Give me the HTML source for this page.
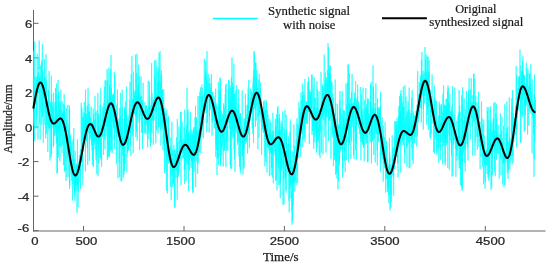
<!DOCTYPE html>
<html><head><meta charset="utf-8"><style>
html,body{margin:0;padding:0;background:#fff;}
body{width:550px;height:266px;overflow:hidden;position:relative;}
svg{position:absolute;left:0;top:0;}
.tk{font-family:"Liberation Sans",Arial,sans-serif;font-size:12px;fill:#262626;stroke:#262626;stroke-width:0.25px;}
.lg{font-family:"Liberation Serif","Times New Roman",serif;font-size:12.3px;font-weight:normal;fill:#1a1a1a;stroke:#1a1a1a;stroke-width:0.2px;}
.al{font-family:"Liberation Serif","Times New Roman",serif;font-size:12px;fill:#1a1a1a;stroke:#1a1a1a;stroke-width:0.25px;}
</style></head><body>
<svg width="550" height="266" viewBox="0 0 550 266">
<rect width="550" height="266" fill="#fff"/>
<g stroke="#666666" stroke-width="1" fill="none">
<path d="M33.5 10 V231.5 M33.5 231 H545.5"/>
<path d="M33.5 23.3 H38.5"/><path d="M33.5 57.8 H38.5"/><path d="M33.5 92.4 H38.5"/><path d="M33.5 127.0 H38.5"/><path d="M33.5 161.6 H38.5"/><path d="M33.5 196.2 H38.5"/><path d="M33.5 230.7 H38.5"/><path d="M83.5 231 V226"/><path d="M184.0 231 V226"/><path d="M284.4 231 V226"/><path d="M384.8 231 V226"/><path d="M485.3 231 V226"/></g>
<path d="M33.3,108.5 L33.4,78.4 L33.5,89.9 L33.6,90.1 L33.7,50.7 L33.8,123.6 L33.9,112.0 L34.0,125.7 L34.1,104.6 L34.2,77.6 L34.3,103.0 L34.4,93.5 L34.5,141.0 L34.6,99.9 L34.7,113.9 L34.8,41.5 L34.9,79.1 L35.0,76.6 L35.1,98.9 L35.2,87.0 L35.3,85.3 L35.4,100.4 L35.5,102.4 L35.6,96.8 L35.7,103.6 L35.8,102.9 L35.9,97.2 L36.0,104.8 L36.1,79.1 L36.2,128.4 L36.3,76.8 L36.4,101.1 L36.5,99.1 L36.6,119.8 L36.7,92.0 L36.8,92.8 L36.9,88.5 L37.0,97.0 L37.1,88.8 L37.2,53.8 L37.3,84.9 L37.4,96.6 L37.5,74.9 L37.6,88.4 L37.7,80.9 L37.8,80.3 L37.9,91.4 L38.0,139.7 L38.1,90.1 L38.2,80.2 L38.3,90.2 L38.4,81.3 L38.5,72.2 L38.6,92.9 L38.7,66.7 L38.8,57.6 L38.9,69.6 L39.0,67.7 L39.1,69.0 L39.2,40.5 L39.3,82.3 L39.4,83.2 L39.5,77.2 L39.6,101.2 L39.7,123.8 L39.8,100.3 L39.9,79.9 L40.0,78.6 L40.1,124.6 L40.2,139.7 L40.3,86.5 L40.4,84.3 L40.5,82.7 L40.6,75.7 L40.7,65.6 L40.8,81.2 L40.9,76.7 L41.0,108.4 L41.1,111.4 L41.2,81.4 L41.3,66.1 L41.4,63.8 L41.5,68.9 L41.6,61.5 L41.7,60.5 L41.8,125.1 L41.9,95.1 L42.0,74.3 L42.1,69.6 L42.2,117.5 L42.3,44.2 L42.4,90.2 L42.5,87.3 L42.6,83.5 L42.7,76.4 L42.8,116.1 L42.9,72.0 L43.0,86.5 L43.1,98.8 L43.2,90.0 L43.3,143.0 L43.4,97.0 L43.5,87.4 L43.6,99.0 L43.7,92.4 L43.8,90.6 L43.9,90.0 L44.0,79.4 L44.1,91.0 L44.2,93.5 L44.3,87.4 L44.4,59.3 L44.5,95.8 L44.6,89.0 L44.8,124.7 L44.9,76.5 L45.0,88.4 L45.1,77.6 L45.2,95.6 L45.3,112.2 L45.4,87.1 L45.5,89.6 L45.6,115.7 L45.7,138.3 L45.8,95.0 L45.9,99.9 L46.0,54.2 L46.1,107.2 L46.2,106.2 L46.3,101.3 L46.4,134.1 L46.5,114.5 L46.6,80.5 L46.7,103.5 L46.8,110.4 L46.9,125.1 L47.0,99.8 L47.1,99.4 L47.2,103.9 L47.3,109.3 L47.4,104.6 L47.5,104.4 L47.6,115.3 L47.7,102.9 L47.8,152.0 L47.9,129.4 L48.0,111.5 L48.1,110.1 L48.2,127.7 L48.3,106.9 L48.4,89.9 L48.5,105.5 L48.6,109.7 L48.7,90.7 L48.8,105.3 L48.9,130.2 L49.0,114.8 L49.1,70.8 L49.2,128.5 L49.3,114.6 L49.4,118.0 L49.5,125.5 L49.6,127.8 L49.7,115.9 L49.8,114.1 L49.9,114.5 L50.0,160.5 L50.1,119.5 L50.2,115.0 L50.3,104.5 L50.4,110.4 L50.5,107.5 L50.6,101.9 L50.7,108.3 L50.8,127.6 L50.9,119.9 L51.0,126.5 L51.1,157.5 L51.2,142.5 L51.3,75.7 L51.4,132.7 L51.5,153.4 L51.6,125.9 L51.7,94.0 L51.8,122.2 L51.9,118.4 L52.0,123.7 L52.1,122.8 L52.2,101.8 L52.3,112.5 L52.4,123.2 L52.5,110.9 L52.6,107.1 L52.7,124.2 L52.8,121.3 L52.9,121.6 L53.0,128.7 L53.1,106.1 L53.2,124.3 L53.3,128.8 L53.4,147.2 L53.5,139.3 L53.6,92.7 L53.7,144.8 L53.8,119.0 L53.9,127.5 L54.0,117.7 L54.1,116.1 L54.2,136.0 L54.3,126.4 L54.4,122.9 L54.5,122.8 L54.6,123.4 L54.7,126.6 L54.8,116.2 L54.9,102.3 L55.0,117.6 L55.1,135.8 L55.2,119.5 L55.3,122.6 L55.4,118.4 L55.5,87.9 L55.6,123.8 L55.7,122.5 L55.8,133.4 L55.9,124.3 L56.0,127.9 L56.1,93.5 L56.2,119.6 L56.3,127.8 L56.4,83.5 L56.5,143.3 L56.6,110.1 L56.7,106.7 L56.8,115.0 L56.9,123.2 L57.0,173.7 L57.1,123.9 L57.2,111.5 L57.3,172.9 L57.4,126.0 L57.5,119.7 L57.6,126.9 L57.7,155.8 L57.8,121.9 L57.9,129.6 L58.0,80.0 L58.1,97.4 L58.2,119.6 L58.3,158.0 L58.4,120.8 L58.5,132.1 L58.6,112.2 L58.7,91.3 L58.8,117.0 L58.9,95.9 L59.0,104.3 L59.1,114.5 L59.2,129.9 L59.3,118.2 L59.4,146.8 L59.5,109.5 L59.6,117.9 L59.7,105.2 L59.8,116.7 L59.9,161.3 L60.0,113.6 L60.1,110.7 L60.2,101.6 L60.3,131.9 L60.4,132.1 L60.5,117.8 L60.6,136.0 L60.7,146.3 L60.8,137.5 L60.9,89.5 L61.0,125.9 L61.1,136.1 L61.2,122.7 L61.3,118.6 L61.4,108.7 L61.5,112.4 L61.6,114.0 L61.7,118.9 L61.8,118.6 L61.9,127.3 L62.0,152.9 L62.1,101.2 L62.2,124.2 L62.3,113.1 L62.4,122.4 L62.5,120.5 L62.6,121.0 L62.7,144.7 L62.8,121.2 L62.9,119.4 L63.0,113.7 L63.1,117.9 L63.2,111.5 L63.3,120.3 L63.4,122.6 L63.5,165.3 L63.6,128.4 L63.7,103.7 L63.8,123.2 L63.9,116.4 L64.0,125.5 L64.1,131.5 L64.2,94.1 L64.3,122.9 L64.4,105.9 L64.5,121.7 L64.6,128.5 L64.7,171.5 L64.8,127.2 L64.9,153.3 L65.0,171.6 L65.1,112.4 L65.2,121.7 L65.3,123.3 L65.4,130.3 L65.5,131.2 L65.6,127.6 L65.7,130.9 L65.8,132.1 L65.9,124.2 L66.0,181.0 L66.1,122.4 L66.2,140.2 L66.3,117.7 L66.4,108.1 L66.5,145.0 L66.6,120.2 L66.7,121.1 L66.8,144.5 L66.9,142.9 L67.0,138.3 L67.1,177.1 L67.2,143.8 L67.3,139.4 L67.4,144.2 L67.6,158.7 L67.7,145.0 L67.8,104.8 L67.9,112.3 L68.0,145.2 L68.1,151.0 L68.2,146.2 L68.3,146.7 L68.4,151.5 L68.5,149.4 L68.6,137.8 L68.7,129.3 L68.8,177.0 L68.9,128.8 L69.0,149.9 L69.1,123.8 L69.2,152.3 L69.3,146.2 L69.4,105.4 L69.5,188.8 L69.6,108.4 L69.7,153.4 L69.8,172.4 L69.9,185.5 L70.0,153.0 L70.1,164.6 L70.2,134.5 L70.3,156.5 L70.4,159.8 L70.5,136.3 L70.6,158.5 L70.7,145.8 L70.8,143.4 L70.9,157.8 L71.0,145.8 L71.1,146.3 L71.2,174.0 L71.3,165.2 L71.4,165.1 L71.5,166.8 L71.6,180.7 L71.7,169.5 L71.8,164.0 L71.9,166.0 L72.0,141.2 L72.1,174.0 L72.2,172.0 L72.3,174.2 L72.4,171.5 L72.5,175.4 L72.6,200.5 L72.7,167.7 L72.8,157.5 L72.9,155.2 L73.0,184.5 L73.1,172.8 L73.2,138.7 L73.3,172.9 L73.4,170.0 L73.5,173.7 L73.6,160.1 L73.7,161.1 L73.8,127.9 L73.9,169.4 L74.0,170.3 L74.1,188.7 L74.2,177.4 L74.3,181.0 L74.4,176.9 L74.5,190.9 L74.6,158.8 L74.7,194.7 L74.8,173.6 L74.9,200.9 L75.0,173.0 L75.1,150.7 L75.2,189.4 L75.3,173.0 L75.4,175.8 L75.5,173.8 L75.6,172.4 L75.7,185.8 L75.8,176.9 L75.9,184.9 L76.0,191.4 L76.1,188.7 L76.2,164.8 L76.3,181.5 L76.4,169.1 L76.5,170.3 L76.6,185.4 L76.7,163.4 L76.8,183.2 L76.9,169.0 L77.0,213.0 L77.1,180.6 L77.2,183.7 L77.3,183.6 L77.4,139.2 L77.5,175.2 L77.6,188.4 L77.7,165.0 L77.8,172.6 L77.9,171.5 L78.0,182.2 L78.1,207.3 L78.2,177.4 L78.3,181.9 L78.4,192.2 L78.5,181.8 L78.6,179.1 L78.7,162.2 L78.8,163.0 L78.9,164.6 L79.0,171.7 L79.1,182.2 L79.2,165.2 L79.3,163.2 L79.4,155.6 L79.5,165.4 L79.6,165.5 L79.7,162.0 L79.8,173.6 L79.9,171.3 L80.0,154.9 L80.1,177.7 L80.2,162.5 L80.3,149.7 L80.4,159.1 L80.5,155.5 L80.6,189.3 L80.7,160.7 L80.8,161.1 L80.9,149.3 L81.0,152.5 L81.1,157.3 L81.2,102.9 L81.3,147.9 L81.4,157.9 L81.5,162.1 L81.6,154.7 L81.7,160.3 L81.8,107.8 L81.9,143.3 L82.0,154.8 L82.1,159.5 L82.2,167.4 L82.3,152.7 L82.4,117.3 L82.5,132.6 L82.6,149.2 L82.7,147.2 L82.8,185.2 L82.9,133.0 L83.0,148.2 L83.1,112.3 L83.2,146.7 L83.3,149.9 L83.4,142.1 L83.5,151.3 L83.6,116.9 L83.7,140.2 L83.8,138.4 L83.9,138.4 L84.0,144.2 L84.1,135.0 L84.2,139.0 L84.3,101.9 L84.4,139.1 L84.5,134.8 L84.6,142.4 L84.7,140.8 L84.8,139.5 L84.9,113.4 L85.0,135.9 L85.1,120.5 L85.2,137.0 L85.3,137.6 L85.4,171.4 L85.5,122.0 L85.6,89.5 L85.7,134.2 L85.8,107.0 L85.9,120.2 L86.0,137.0 L86.1,125.0 L86.2,139.0 L86.3,132.3 L86.4,117.9 L86.5,129.5 L86.6,141.7 L86.7,114.1 L86.8,140.0 L86.9,129.5 L87.0,130.3 L87.1,128.9 L87.2,135.3 L87.3,148.1 L87.4,105.6 L87.5,135.8 L87.6,134.7 L87.7,165.0 L87.8,126.3 L87.9,113.7 L88.0,88.0 L88.1,88.4 L88.2,110.4 L88.3,123.1 L88.4,125.4 L88.5,111.3 L88.6,125.2 L88.7,124.0 L88.8,133.4 L88.9,124.3 L89.0,103.7 L89.1,124.7 L89.2,122.1 L89.3,160.8 L89.4,112.6 L89.5,122.1 L89.6,111.9 L89.7,122.9 L89.8,131.1 L89.9,139.1 L90.0,121.2 L90.1,124.0 L90.2,133.1 L90.3,124.0 L90.5,128.6 L90.6,117.3 L90.7,126.4 L90.8,138.0 L90.9,124.2 L91.0,128.4 L91.1,106.7 L91.2,127.6 L91.3,140.9 L91.4,124.5 L91.5,127.0 L91.6,122.7 L91.7,123.4 L91.8,145.1 L91.9,125.4 L92.0,126.1 L92.1,151.1 L92.2,134.4 L92.3,124.7 L92.4,165.5 L92.5,148.9 L92.6,133.3 L92.7,127.5 L92.8,121.8 L92.9,159.1 L93.0,125.8 L93.1,122.9 L93.2,108.5 L93.3,134.3 L93.4,146.8 L93.5,167.0 L93.6,124.7 L93.7,113.7 L93.8,141.6 L93.9,126.5 L94.0,121.2 L94.1,119.7 L94.2,134.3 L94.3,124.5 L94.4,130.6 L94.5,144.5 L94.6,129.2 L94.7,128.4 L94.8,140.4 L94.9,127.7 L95.0,95.8 L95.1,149.5 L95.2,124.3 L95.3,120.7 L95.4,132.3 L95.5,130.1 L95.6,134.2 L95.7,111.7 L95.8,142.1 L95.9,134.1 L96.0,159.8 L96.1,132.4 L96.2,132.3 L96.3,155.5 L96.4,142.7 L96.5,132.0 L96.6,138.5 L96.7,148.4 L96.8,174.1 L96.9,133.8 L97.0,110.6 L97.1,139.2 L97.2,133.5 L97.3,133.8 L97.4,136.6 L97.5,136.1 L97.6,136.1 L97.7,145.0 L97.8,98.3 L97.9,92.9 L98.0,176.3 L98.1,113.5 L98.2,144.5 L98.3,138.0 L98.4,125.2 L98.5,149.2 L98.6,151.5 L98.7,134.9 L98.8,163.5 L98.9,114.2 L99.0,130.3 L99.1,135.4 L99.2,131.0 L99.3,147.7 L99.4,148.1 L99.5,128.5 L99.6,126.8 L99.7,135.4 L99.8,135.9 L99.9,140.6 L100.0,105.2 L100.1,157.7 L100.2,145.0 L100.3,139.9 L100.4,157.9 L100.5,153.3 L100.6,147.2 L100.7,115.0 L100.8,88.1 L100.9,129.9 L101.0,160.1 L101.1,139.4 L101.2,133.7 L101.3,134.6 L101.4,135.5 L101.5,125.2 L101.6,166.9 L101.7,137.4 L101.8,129.5 L101.9,119.5 L102.0,127.8 L102.1,130.5 L102.2,130.8 L102.3,136.8 L102.4,129.0 L102.5,130.3 L102.6,136.4 L102.7,106.6 L102.8,106.7 L102.9,130.6 L103.0,119.1 L103.1,109.8 L103.2,124.6 L103.3,125.5 L103.4,121.0 L103.5,154.7 L103.6,148.7 L103.7,119.5 L103.8,122.1 L103.9,103.1 L104.0,129.5 L104.1,108.0 L104.2,108.4 L104.3,86.9 L104.4,135.2 L104.5,125.0 L104.6,118.8 L104.7,118.5 L104.8,139.5 L104.9,127.7 L105.0,149.0 L105.1,79.9 L105.2,118.6 L105.3,118.1 L105.4,126.7 L105.5,117.1 L105.6,108.7 L105.7,119.7 L105.8,116.1 L105.9,80.7 L106.0,105.1 L106.1,113.3 L106.2,119.5 L106.3,114.0 L106.4,126.7 L106.5,111.4 L106.6,124.2 L106.7,125.5 L106.8,117.3 L106.9,136.2 L107.0,110.3 L107.1,69.1 L107.2,121.6 L107.3,160.0 L107.4,100.0 L107.5,110.3 L107.6,80.4 L107.7,106.5 L107.8,99.4 L107.9,125.0 L108.0,157.2 L108.1,109.9 L108.2,102.0 L108.3,127.5 L108.4,157.2 L108.5,118.8 L108.6,114.6 L108.7,111.6 L108.8,106.4 L108.9,67.6 L109.0,105.5 L109.1,115.3 L109.2,135.1 L109.3,97.1 L109.4,156.7 L109.5,84.4 L109.6,104.8 L109.7,152.6 L109.8,103.6 L109.9,105.8 L110.0,88.1 L110.1,151.9 L110.2,103.0 L110.3,104.2 L110.4,93.4 L110.5,135.8 L110.6,122.5 L110.7,69.0 L110.8,98.9 L110.9,149.9 L111.0,55.0 L111.1,122.5 L111.2,119.3 L111.3,138.5 L111.4,88.0 L111.5,114.8 L111.6,102.8 L111.7,103.7 L111.8,150.6 L111.9,121.1 L112.0,94.3 L112.1,153.2 L112.2,103.2 L112.3,106.4 L112.4,98.1 L112.5,97.7 L112.6,95.3 L112.7,105.4 L112.8,104.5 L112.9,122.2 L113.0,117.6 L113.1,95.3 L113.3,119.8 L113.4,93.5 L113.5,94.4 L113.6,127.1 L113.7,103.0 L113.8,128.4 L113.9,106.6 L114.0,127.9 L114.1,107.4 L114.2,109.3 L114.3,138.6 L114.4,72.0 L114.5,99.3 L114.6,148.9 L114.7,109.7 L114.8,118.1 L114.9,74.8 L115.0,113.8 L115.1,110.9 L115.2,116.0 L115.3,108.6 L115.4,122.8 L115.5,131.6 L115.6,123.0 L115.7,122.1 L115.8,111.2 L115.9,117.4 L116.0,123.1 L116.1,123.0 L116.2,132.9 L116.3,119.3 L116.4,164.2 L116.5,122.6 L116.6,105.3 L116.7,125.4 L116.8,130.7 L116.9,122.8 L117.0,137.2 L117.1,134.2 L117.2,117.3 L117.3,132.9 L117.4,89.3 L117.5,121.2 L117.6,127.3 L117.7,134.7 L117.8,129.9 L117.9,178.4 L118.0,127.4 L118.1,118.4 L118.2,124.3 L118.3,134.7 L118.4,124.4 L118.5,124.4 L118.6,132.7 L118.7,130.3 L118.8,121.6 L118.9,130.2 L119.0,137.2 L119.1,134.3 L119.2,134.2 L119.3,162.0 L119.4,135.3 L119.5,136.9 L119.6,177.4 L119.7,165.6 L119.8,107.9 L119.9,137.5 L120.0,118.9 L120.1,141.9 L120.2,115.7 L120.3,134.3 L120.4,147.3 L120.5,138.5 L120.6,115.4 L120.7,92.8 L120.8,136.5 L120.9,145.3 L121.0,181.6 L121.1,134.6 L121.2,127.0 L121.3,141.9 L121.4,143.3 L121.5,132.9 L121.6,138.6 L121.7,140.1 L121.8,180.6 L121.9,147.5 L122.0,107.0 L122.1,144.2 L122.2,89.8 L122.3,140.9 L122.4,147.3 L122.5,142.4 L122.6,137.8 L122.7,155.9 L122.8,143.0 L122.9,149.6 L123.0,118.9 L123.1,150.2 L123.2,144.2 L123.3,177.5 L123.4,173.0 L123.5,145.2 L123.6,160.1 L123.7,147.4 L123.8,142.8 L123.9,138.2 L124.0,174.6 L124.1,145.7 L124.2,136.1 L124.3,154.1 L124.4,170.8 L124.5,154.1 L124.6,107.2 L124.7,143.4 L124.8,109.2 L124.9,145.2 L125.0,120.2 L125.1,164.2 L125.2,144.1 L125.3,141.8 L125.4,101.7 L125.5,136.2 L125.6,121.2 L125.7,144.7 L125.8,144.4 L125.9,116.2 L126.0,111.5 L126.1,117.2 L126.2,117.7 L126.3,144.3 L126.4,86.6 L126.5,137.8 L126.6,115.0 L126.7,127.6 L126.8,167.6 L126.9,172.3 L127.0,163.3 L127.1,137.0 L127.2,117.8 L127.3,137.7 L127.4,123.7 L127.5,153.4 L127.6,141.4 L127.7,145.9 L127.8,134.1 L127.9,150.3 L128.0,133.8 L128.1,126.2 L128.2,136.7 L128.3,143.4 L128.4,135.7 L128.5,149.2 L128.6,144.8 L128.7,117.1 L128.8,126.2 L128.9,150.9 L129.0,130.7 L129.1,122.8 L129.2,114.5 L129.3,117.6 L129.4,107.9 L129.5,126.7 L129.6,126.1 L129.7,127.1 L129.8,100.4 L129.9,110.8 L130.0,81.9 L130.1,102.2 L130.2,132.2 L130.3,144.8 L130.4,142.4 L130.5,132.2 L130.6,111.7 L130.7,141.2 L130.8,155.9 L130.9,120.9 L131.0,104.2 L131.1,104.7 L131.2,74.0 L131.3,118.2 L131.4,121.0 L131.5,118.6 L131.6,129.4 L131.7,120.9 L131.8,87.4 L131.9,56.0 L132.0,87.4 L132.1,111.7 L132.2,115.3 L132.3,111.7 L132.4,136.2 L132.5,105.1 L132.6,100.0 L132.7,112.7 L132.8,111.7 L132.9,131.8 L133.0,98.8 L133.1,98.5 L133.2,153.3 L133.3,114.3 L133.4,106.3 L133.5,71.6 L133.6,116.8 L133.7,108.7 L133.8,89.4 L133.9,104.6 L134.0,108.7 L134.1,110.4 L134.2,106.9 L134.3,114.0 L134.4,96.0 L134.5,114.4 L134.6,101.6 L134.7,96.4 L134.8,91.7 L134.9,104.7 L135.0,104.8 L135.1,102.4 L135.2,104.0 L135.3,91.7 L135.4,104.4 L135.5,75.4 L135.6,54.6 L135.7,116.6 L135.8,100.1 L135.9,137.2 L136.1,95.7 L136.2,99.7 L136.3,104.7 L136.4,132.1 L136.5,102.5 L136.6,72.7 L136.7,81.0 L136.8,99.5 L136.9,115.1 L137.0,53.7 L137.1,119.1 L137.2,140.9 L137.3,124.6 L137.4,97.2 L137.5,100.3 L137.6,101.3 L137.7,114.1 L137.8,119.6 L137.9,86.9 L138.0,104.4 L138.1,83.5 L138.2,108.9 L138.3,88.7 L138.4,100.7 L138.5,105.4 L138.6,105.4 L138.7,64.6 L138.8,89.9 L138.9,104.3 L139.0,102.1 L139.1,122.9 L139.2,75.9 L139.3,83.6 L139.4,106.2 L139.5,100.1 L139.6,150.2 L139.7,93.1 L139.8,100.6 L139.9,103.0 L140.0,96.5 L140.1,103.1 L140.2,114.4 L140.3,110.9 L140.4,106.3 L140.5,96.8 L140.6,106.1 L140.7,111.6 L140.8,104.3 L140.9,119.8 L141.0,76.4 L141.1,106.6 L141.2,116.6 L141.3,107.5 L141.4,103.2 L141.5,106.6 L141.6,96.1 L141.7,132.8 L141.8,100.5 L141.9,109.3 L142.0,106.0 L142.1,100.2 L142.2,128.0 L142.3,133.1 L142.4,113.8 L142.5,139.4 L142.6,149.0 L142.7,111.2 L142.8,106.3 L142.9,116.1 L143.0,110.6 L143.1,82.8 L143.2,111.8 L143.3,114.9 L143.4,113.9 L143.5,112.1 L143.6,115.4 L143.7,111.4 L143.8,113.6 L143.9,110.5 L144.0,114.3 L144.1,115.0 L144.2,125.2 L144.3,133.8 L144.4,117.0 L144.5,118.2 L144.6,115.1 L144.7,116.3 L144.8,119.8 L144.9,102.1 L145.0,115.8 L145.1,111.1 L145.2,132.4 L145.3,108.3 L145.4,106.2 L145.5,114.7 L145.6,124.2 L145.7,105.6 L145.8,122.7 L145.9,133.5 L146.0,134.5 L146.1,117.9 L146.2,120.9 L146.3,112.3 L146.4,113.8 L146.5,105.3 L146.6,116.9 L146.7,118.3 L146.8,118.6 L146.9,124.1 L147.0,124.6 L147.1,123.5 L147.2,117.8 L147.3,124.8 L147.4,119.0 L147.5,108.4 L147.6,147.5 L147.7,125.1 L147.8,126.5 L147.9,118.7 L148.0,133.0 L148.1,123.0 L148.2,80.7 L148.3,131.2 L148.4,118.7 L148.5,117.4 L148.6,119.7 L148.7,128.9 L148.8,106.1 L148.9,139.4 L149.0,125.8 L149.1,118.8 L149.2,122.0 L149.3,101.1 L149.4,119.1 L149.5,81.7 L149.6,117.1 L149.7,96.7 L149.8,114.2 L149.9,118.2 L150.0,118.4 L150.1,105.4 L150.2,120.8 L150.3,116.1 L150.4,123.8 L150.5,146.7 L150.6,111.5 L150.7,110.2 L150.8,129.8 L150.9,111.6 L151.0,116.1 L151.1,143.3 L151.2,124.6 L151.3,108.4 L151.4,102.8 L151.5,110.9 L151.6,63.2 L151.7,110.7 L151.8,120.2 L151.9,132.9 L152.0,93.0 L152.1,115.5 L152.2,114.1 L152.3,119.9 L152.4,119.6 L152.5,113.1 L152.6,106.9 L152.7,105.6 L152.8,107.3 L152.9,99.7 L153.0,113.1 L153.1,121.5 L153.2,108.1 L153.3,145.0 L153.4,99.5 L153.5,103.4 L153.6,102.9 L153.7,121.1 L153.8,110.5 L153.9,105.7 L154.0,118.3 L154.1,119.6 L154.2,106.2 L154.3,103.9 L154.4,111.4 L154.5,90.4 L154.6,60.6 L154.7,97.8 L154.8,104.2 L154.9,105.4 L155.0,76.4 L155.1,100.3 L155.2,96.1 L155.3,100.5 L155.4,107.4 L155.5,77.6 L155.6,102.8 L155.7,100.2 L155.8,143.3 L155.9,59.9 L156.0,92.0 L156.1,100.5 L156.2,109.6 L156.3,106.4 L156.4,130.4 L156.5,95.3 L156.6,110.6 L156.7,95.4 L156.8,94.9 L156.9,66.5 L157.0,97.4 L157.1,96.5 L157.2,94.0 L157.3,105.0 L157.4,99.7 L157.5,95.6 L157.6,82.4 L157.7,89.7 L157.8,99.5 L157.9,80.5 L158.0,101.8 L158.1,133.3 L158.2,72.3 L158.3,97.4 L158.4,102.8 L158.5,127.3 L158.6,103.3 L158.7,68.2 L158.8,97.6 L159.0,53.0 L159.1,97.4 L159.2,80.6 L159.3,97.5 L159.4,103.5 L159.5,103.0 L159.6,100.2 L159.7,125.9 L159.8,127.0 L159.9,94.8 L160.0,51.0 L160.1,97.6 L160.2,98.8 L160.3,118.7 L160.4,82.2 L160.5,84.5 L160.6,129.4 L160.7,100.0 L160.8,104.3 L160.9,145.7 L161.0,75.2 L161.1,75.7 L161.2,97.8 L161.3,70.0 L161.4,110.3 L161.5,99.8 L161.6,74.6 L161.7,106.9 L161.8,102.0 L161.9,127.1 L162.0,98.5 L162.1,90.4 L162.2,129.4 L162.3,123.3 L162.4,107.9 L162.5,89.3 L162.6,115.2 L162.7,124.0 L162.8,110.3 L162.9,97.5 L163.0,150.2 L163.1,112.6 L163.2,97.4 L163.3,113.0 L163.4,116.1 L163.5,106.6 L163.6,144.2 L163.7,89.3 L163.8,113.0 L163.9,121.6 L164.0,117.1 L164.1,118.3 L164.2,122.1 L164.3,152.4 L164.4,122.6 L164.5,172.9 L164.6,108.0 L164.7,150.3 L164.8,137.8 L164.9,140.6 L165.0,119.2 L165.1,127.2 L165.2,111.3 L165.3,134.0 L165.4,126.7 L165.5,128.3 L165.6,133.4 L165.7,119.2 L165.8,114.3 L165.9,113.3 L166.0,170.0 L166.1,129.9 L166.2,160.9 L166.3,162.6 L166.4,190.8 L166.5,156.5 L166.6,130.4 L166.7,116.9 L166.8,109.7 L166.9,157.8 L167.0,150.0 L167.1,138.2 L167.2,139.6 L167.3,139.7 L167.4,193.4 L167.5,144.2 L167.6,137.1 L167.7,141.9 L167.8,145.4 L167.9,158.7 L168.0,146.4 L168.1,117.1 L168.2,141.9 L168.3,131.7 L168.4,116.1 L168.5,163.6 L168.6,141.3 L168.7,145.5 L168.8,128.5 L168.9,153.1 L169.0,153.4 L169.1,159.2 L169.2,152.3 L169.3,155.2 L169.4,155.0 L169.5,152.2 L169.6,157.5 L169.7,163.2 L169.8,158.8 L169.9,160.4 L170.0,155.3 L170.1,145.7 L170.2,160.2 L170.3,187.2 L170.4,155.6 L170.5,160.1 L170.6,167.1 L170.7,161.8 L170.8,137.8 L170.9,174.4 L171.0,170.8 L171.1,162.5 L171.2,199.7 L171.3,165.3 L171.4,154.6 L171.5,160.2 L171.6,162.1 L171.7,165.7 L171.8,165.1 L171.9,121.8 L172.0,164.2 L172.1,150.7 L172.2,174.7 L172.3,164.7 L172.4,164.0 L172.5,165.6 L172.6,187.0 L172.7,168.3 L172.8,149.6 L172.9,162.9 L173.0,171.5 L173.1,159.1 L173.2,184.1 L173.3,162.8 L173.4,165.2 L173.5,170.8 L173.6,175.0 L173.7,183.4 L173.8,168.0 L173.9,144.7 L174.0,151.7 L174.1,162.4 L174.2,150.0 L174.3,170.7 L174.4,159.9 L174.5,206.7 L174.6,169.7 L174.7,169.6 L174.8,166.7 L174.9,167.1 L175.0,208.0 L175.1,170.6 L175.2,149.6 L175.3,167.1 L175.4,153.3 L175.5,165.2 L175.6,153.5 L175.7,160.9 L175.8,169.2 L175.9,164.0 L176.0,177.1 L176.1,164.3 L176.2,161.2 L176.3,165.5 L176.4,164.5 L176.5,149.1 L176.6,143.3 L176.7,137.2 L176.8,170.4 L176.9,167.7 L177.0,152.2 L177.1,149.9 L177.2,200.1 L177.3,118.9 L177.4,142.9 L177.5,182.9 L177.6,142.4 L177.7,165.1 L177.8,161.1 L177.9,175.2 L178.0,171.3 L178.1,163.4 L178.2,158.7 L178.3,176.6 L178.4,158.8 L178.5,167.4 L178.6,163.9 L178.7,170.2 L178.8,164.9 L178.9,126.2 L179.0,171.6 L179.1,167.4 L179.2,156.1 L179.3,158.4 L179.4,163.3 L179.5,151.3 L179.6,164.0 L179.7,154.4 L179.8,139.5 L179.9,147.5 L180.0,154.8 L180.1,153.2 L180.2,152.2 L180.3,145.8 L180.4,159.2 L180.5,130.0 L180.6,142.2 L180.7,112.0 L180.8,139.9 L180.9,135.5 L181.0,185.4 L181.1,152.7 L181.2,112.0 L181.3,146.9 L181.4,152.0 L181.5,141.5 L181.6,149.1 L181.8,145.8 L181.9,153.1 L182.0,143.6 L182.1,121.8 L182.2,146.8 L182.3,144.2 L182.4,151.9 L182.5,143.3 L182.6,149.4 L182.7,158.4 L182.8,149.1 L182.9,147.8 L183.0,143.3 L183.1,138.7 L183.2,148.0 L183.3,149.6 L183.4,142.0 L183.5,158.1 L183.6,149.0 L183.7,147.8 L183.8,147.0 L183.9,152.5 L184.0,127.4 L184.1,137.5 L184.2,146.7 L184.3,169.7 L184.4,150.8 L184.5,141.4 L184.6,183.7 L184.7,109.8 L184.8,145.6 L184.9,145.3 L185.0,140.7 L185.1,169.8 L185.2,144.8 L185.3,145.0 L185.4,139.7 L185.5,160.3 L185.6,140.7 L185.7,133.1 L185.8,143.7 L185.9,151.5 L186.0,157.3 L186.1,180.8 L186.2,152.2 L186.3,141.7 L186.4,124.6 L186.5,133.2 L186.6,129.4 L186.7,149.0 L186.8,148.7 L186.9,164.5 L187.0,88.0 L187.1,158.0 L187.2,147.5 L187.3,134.5 L187.4,146.9 L187.5,148.6 L187.6,135.9 L187.7,111.5 L187.8,126.9 L187.9,169.1 L188.0,109.5 L188.1,150.5 L188.2,164.9 L188.3,150.0 L188.4,131.9 L188.5,191.0 L188.6,132.7 L188.7,147.4 L188.8,144.4 L188.9,164.9 L189.0,153.2 L189.1,161.3 L189.2,135.9 L189.3,156.4 L189.4,147.4 L189.5,155.3 L189.6,171.1 L189.7,141.6 L189.8,136.6 L189.9,130.7 L190.0,154.9 L190.1,150.8 L190.2,145.1 L190.3,149.4 L190.4,150.5 L190.5,112.3 L190.6,156.9 L190.7,143.1 L190.8,158.8 L190.9,133.7 L191.0,154.9 L191.1,167.9 L191.2,145.8 L191.3,152.8 L191.4,157.0 L191.5,155.1 L191.6,161.0 L191.7,149.5 L191.8,151.7 L191.9,129.5 L192.0,162.6 L192.1,134.7 L192.2,149.6 L192.3,179.3 L192.4,133.5 L192.5,189.3 L192.6,148.0 L192.7,191.9 L192.8,152.2 L192.9,158.2 L193.0,193.4 L193.1,193.2 L193.2,164.6 L193.3,130.6 L193.4,145.5 L193.5,155.1 L193.6,155.5 L193.7,159.7 L193.8,127.0 L193.9,154.8 L194.0,136.1 L194.1,171.1 L194.2,172.0 L194.3,127.7 L194.4,161.7 L194.5,155.1 L194.6,148.2 L194.7,138.4 L194.8,144.7 L194.9,146.1 L195.0,117.0 L195.1,150.8 L195.2,137.4 L195.3,152.9 L195.4,151.5 L195.5,105.6 L195.6,153.6 L195.7,187.0 L195.8,151.6 L195.9,150.6 L196.0,119.1 L196.1,153.3 L196.2,161.6 L196.3,150.2 L196.4,117.3 L196.5,151.9 L196.6,130.8 L196.7,144.7 L196.8,142.2 L196.9,155.7 L197.0,148.4 L197.1,154.6 L197.2,148.0 L197.3,152.6 L197.4,132.0 L197.5,150.1 L197.6,147.4 L197.7,173.8 L197.8,155.1 L197.9,96.3 L198.0,147.1 L198.1,163.5 L198.2,143.7 L198.3,144.4 L198.4,146.3 L198.5,143.9 L198.6,144.9 L198.7,130.5 L198.8,152.6 L198.9,139.2 L199.0,130.6 L199.1,146.6 L199.2,96.0 L199.3,137.8 L199.4,137.8 L199.5,140.5 L199.6,127.8 L199.7,152.3 L199.8,129.8 L199.9,91.5 L200.0,131.2 L200.1,122.0 L200.2,141.3 L200.3,121.5 L200.4,137.9 L200.5,133.6 L200.6,130.1 L200.7,87.3 L200.8,133.0 L200.9,153.0 L201.0,126.8 L201.1,115.6 L201.2,117.3 L201.3,123.6 L201.4,96.9 L201.5,109.4 L201.6,109.7 L201.7,125.2 L201.8,136.9 L201.9,84.5 L202.0,127.6 L202.1,88.2 L202.2,91.5 L202.3,129.5 L202.4,122.7 L202.5,111.4 L202.6,96.2 L202.7,124.3 L202.8,117.2 L202.9,124.1 L203.0,126.1 L203.1,113.0 L203.2,116.3 L203.3,138.3 L203.4,105.4 L203.5,113.9 L203.6,113.4 L203.7,124.3 L203.8,94.9 L203.9,105.1 L204.0,104.6 L204.1,108.7 L204.2,102.3 L204.3,58.7 L204.4,104.7 L204.6,103.3 L204.7,108.8 L204.8,92.2 L204.9,105.7 L205.0,108.8 L205.1,75.1 L205.2,104.0 L205.3,109.0 L205.4,107.0 L205.5,105.0 L205.6,110.3 L205.7,60.9 L205.8,90.0 L205.9,113.0 L206.0,70.6 L206.1,101.6 L206.2,96.1 L206.3,101.0 L206.4,92.2 L206.5,91.8 L206.6,80.3 L206.7,77.8 L206.8,132.2 L206.9,100.5 L207.0,51.0 L207.1,97.9 L207.2,112.4 L207.3,98.9 L207.4,97.4 L207.5,123.0 L207.6,103.9 L207.7,83.4 L207.8,102.4 L207.9,96.8 L208.0,95.7 L208.1,89.2 L208.2,83.7 L208.3,74.1 L208.4,94.9 L208.5,94.0 L208.6,95.8 L208.7,93.8 L208.8,95.6 L208.9,83.0 L209.0,84.2 L209.1,113.1 L209.2,132.7 L209.3,90.3 L209.4,99.7 L209.5,116.7 L209.6,86.6 L209.7,77.9 L209.8,109.3 L209.9,106.2 L210.0,102.4 L210.1,104.3 L210.2,96.9 L210.3,109.9 L210.4,96.7 L210.5,100.0 L210.6,88.5 L210.7,97.8 L210.8,91.1 L210.9,83.5 L211.0,95.3 L211.1,94.5 L211.2,102.6 L211.3,98.8 L211.4,74.1 L211.5,88.1 L211.6,99.5 L211.7,103.4 L211.8,101.3 L211.9,93.3 L212.0,135.6 L212.1,100.6 L212.2,119.7 L212.3,91.7 L212.4,122.5 L212.5,97.7 L212.6,105.3 L212.7,103.5 L212.8,91.9 L212.9,104.3 L213.0,101.8 L213.1,103.9 L213.2,119.5 L213.3,106.1 L213.4,101.5 L213.5,105.4 L213.6,106.7 L213.7,114.6 L213.8,97.5 L213.9,113.3 L214.0,96.1 L214.1,108.9 L214.2,106.5 L214.3,128.4 L214.4,110.5 L214.5,121.2 L214.6,111.4 L214.7,102.9 L214.8,111.1 L214.9,112.1 L215.0,106.1 L215.1,128.1 L215.2,114.0 L215.3,120.3 L215.4,105.1 L215.5,122.9 L215.6,96.9 L215.7,88.6 L215.8,157.0 L215.9,118.2 L216.0,145.2 L216.1,103.6 L216.2,130.2 L216.3,113.5 L216.4,117.5 L216.5,133.7 L216.6,149.8 L216.7,106.4 L216.8,128.7 L216.9,119.8 L217.0,175.0 L217.1,122.4 L217.2,125.4 L217.3,140.0 L217.4,119.1 L217.5,135.6 L217.6,158.7 L217.7,131.5 L217.8,132.5 L217.9,158.8 L218.0,127.5 L218.1,114.8 L218.2,119.6 L218.3,81.8 L218.4,107.8 L218.5,124.9 L218.6,165.0 L218.7,126.2 L218.8,109.7 L218.9,129.9 L219.0,104.7 L219.1,139.2 L219.2,126.9 L219.3,118.1 L219.4,97.3 L219.5,129.7 L219.6,89.3 L219.7,132.2 L219.8,156.4 L219.9,130.6 L220.0,77.4 L220.1,132.6 L220.2,98.4 L220.3,131.8 L220.4,91.1 L220.5,166.1 L220.6,78.6 L220.7,162.5 L220.8,131.5 L220.9,145.2 L221.0,128.7 L221.1,132.6 L221.2,133.2 L221.3,123.9 L221.4,117.4 L221.5,133.6 L221.6,111.2 L221.7,155.3 L221.8,143.0 L221.9,148.2 L222.0,126.7 L222.1,118.8 L222.2,134.4 L222.3,136.8 L222.4,145.2 L222.5,123.3 L222.6,113.9 L222.7,135.5 L222.8,131.7 L222.9,133.6 L223.0,130.7 L223.1,121.7 L223.2,166.6 L223.3,134.6 L223.4,115.1 L223.5,139.5 L223.6,107.1 L223.7,103.1 L223.8,139.6 L223.9,136.4 L224.0,105.6 L224.1,151.0 L224.2,139.9 L224.3,150.5 L224.4,127.8 L224.5,124.5 L224.6,122.4 L224.7,124.9 L224.8,145.4 L224.9,108.3 L225.0,126.5 L225.1,128.9 L225.2,94.1 L225.3,124.9 L225.4,122.3 L225.5,114.3 L225.6,85.3 L225.7,124.4 L225.8,116.2 L225.9,167.2 L226.0,135.3 L226.1,83.7 L226.2,85.6 L226.3,123.3 L226.4,133.0 L226.5,142.4 L226.6,138.6 L226.7,127.0 L226.8,150.7 L226.9,121.2 L227.0,121.3 L227.1,138.5 L227.2,139.9 L227.4,136.8 L227.5,123.9 L227.6,120.3 L227.7,114.2 L227.8,150.6 L227.9,120.9 L228.0,117.6 L228.1,115.6 L228.2,109.1 L228.3,122.6 L228.4,102.2 L228.5,79.8 L228.6,112.8 L228.7,94.9 L228.8,104.9 L228.9,111.8 L229.0,116.9 L229.1,113.1 L229.2,80.8 L229.3,113.9 L229.4,128.9 L229.5,121.2 L229.6,105.1 L229.7,124.4 L229.8,102.2 L229.9,104.9 L230.0,111.1 L230.1,85.3 L230.2,165.1 L230.3,125.9 L230.4,114.0 L230.5,108.3 L230.6,168.5 L230.7,126.6 L230.8,87.8 L230.9,120.0 L231.0,96.8 L231.1,115.1 L231.2,135.4 L231.3,102.6 L231.4,77.3 L231.5,111.2 L231.6,168.7 L231.7,135.5 L231.8,121.8 L231.9,115.8 L232.0,57.6 L232.1,97.4 L232.2,138.5 L232.3,87.4 L232.4,132.9 L232.5,130.5 L232.6,82.7 L232.7,97.0 L232.8,115.3 L232.9,120.8 L233.0,113.0 L233.1,111.1 L233.2,108.7 L233.3,87.3 L233.4,123.8 L233.5,111.7 L233.6,111.6 L233.7,137.6 L233.8,84.2 L233.9,64.1 L234.0,112.5 L234.1,149.7 L234.2,124.9 L234.3,93.7 L234.4,159.3 L234.5,158.4 L234.6,120.0 L234.7,107.8 L234.8,98.8 L234.9,93.5 L235.0,172.0 L235.1,122.6 L235.2,130.8 L235.3,131.3 L235.4,102.8 L235.5,111.3 L235.6,126.7 L235.7,115.1 L235.8,115.6 L235.9,90.0 L236.0,124.2 L236.1,107.3 L236.2,127.6 L236.3,112.6 L236.4,119.1 L236.5,116.7 L236.6,119.6 L236.7,85.0 L236.8,128.4 L236.9,132.8 L237.0,126.4 L237.1,115.3 L237.2,110.3 L237.3,122.2 L237.4,144.9 L237.5,132.8 L237.6,140.3 L237.7,116.6 L237.8,123.6 L237.9,121.6 L238.0,123.8 L238.1,124.1 L238.2,103.2 L238.3,133.7 L238.4,120.4 L238.5,120.1 L238.6,142.3 L238.7,89.2 L238.8,124.9 L238.9,156.7 L239.0,110.5 L239.1,120.2 L239.2,117.3 L239.3,130.9 L239.4,134.0 L239.5,128.3 L239.6,167.0 L239.7,128.8 L239.8,130.1 L239.9,114.5 L240.0,133.3 L240.1,122.2 L240.2,170.1 L240.3,147.0 L240.4,124.7 L240.5,113.0 L240.6,123.4 L240.7,173.7 L240.8,156.6 L240.9,144.2 L241.0,118.2 L241.1,144.4 L241.2,133.0 L241.3,130.9 L241.4,131.1 L241.5,136.1 L241.6,132.9 L241.7,126.1 L241.8,134.6 L241.9,135.7 L242.0,127.4 L242.1,113.9 L242.2,90.4 L242.3,156.4 L242.4,134.4 L242.5,135.8 L242.6,155.5 L242.7,138.8 L242.8,145.8 L242.9,152.8 L243.0,174.7 L243.1,130.8 L243.2,153.6 L243.3,142.7 L243.4,137.4 L243.5,152.0 L243.6,157.5 L243.7,166.9 L243.8,146.3 L243.9,118.5 L244.0,168.3 L244.1,128.2 L244.2,148.8 L244.3,148.9 L244.4,123.2 L244.5,128.3 L244.6,126.4 L244.7,135.5 L244.8,120.8 L244.9,141.7 L245.0,131.6 L245.1,117.6 L245.2,134.8 L245.3,143.9 L245.4,93.7 L245.5,135.2 L245.6,140.2 L245.7,124.2 L245.8,105.9 L245.9,124.9 L246.0,140.9 L246.1,132.0 L246.2,129.5 L246.3,124.5 L246.4,142.4 L246.5,140.4 L246.6,129.4 L246.7,130.1 L246.8,126.1 L246.9,114.0 L247.0,140.0 L247.1,137.1 L247.2,131.5 L247.3,104.9 L247.4,128.1 L247.5,115.3 L247.6,153.5 L247.7,125.0 L247.8,114.9 L247.9,104.5 L248.0,129.4 L248.1,88.6 L248.2,129.6 L248.3,101.1 L248.4,94.6 L248.5,122.5 L248.6,134.3 L248.7,79.9 L248.8,117.7 L248.9,131.2 L249.0,115.3 L249.1,128.5 L249.2,117.9 L249.3,128.3 L249.4,148.2 L249.5,110.4 L249.6,122.1 L249.7,116.8 L249.8,115.4 L249.9,116.1 L250.0,121.0 L250.1,111.7 L250.3,108.1 L250.4,111.9 L250.5,115.0 L250.6,112.1 L250.7,88.5 L250.8,94.4 L250.9,111.8 L251.0,98.7 L251.1,98.5 L251.2,97.7 L251.3,107.8 L251.4,98.6 L251.5,109.1 L251.6,91.5 L251.7,95.6 L251.8,92.7 L251.9,92.6 L252.0,94.6 L252.1,116.6 L252.2,128.2 L252.3,101.6 L252.4,106.9 L252.5,93.6 L252.6,111.7 L252.7,107.3 L252.8,133.6 L252.9,101.4 L253.0,105.0 L253.1,83.3 L253.2,99.4 L253.3,76.7 L253.4,112.5 L253.5,143.0 L253.6,82.4 L253.7,92.4 L253.8,69.8 L253.9,108.3 L254.0,51.0 L254.1,68.3 L254.2,93.2 L254.3,103.9 L254.4,52.6 L254.5,94.7 L254.6,109.0 L254.7,90.4 L254.8,100.4 L254.9,108.3 L255.0,89.6 L255.1,93.3 L255.2,94.3 L255.3,93.9 L255.4,126.9 L255.5,85.0 L255.6,62.6 L255.7,90.3 L255.8,75.9 L255.9,62.1 L256.0,93.4 L256.1,107.2 L256.2,120.6 L256.3,99.6 L256.4,84.5 L256.5,92.8 L256.6,77.7 L256.7,105.8 L256.8,70.0 L256.9,95.2 L257.0,92.7 L257.1,91.9 L257.2,93.7 L257.3,93.0 L257.4,88.1 L257.5,93.2 L257.6,89.9 L257.7,113.6 L257.8,113.7 L257.9,149.2 L258.0,88.2 L258.1,116.7 L258.2,91.3 L258.3,93.8 L258.4,94.0 L258.5,96.2 L258.6,91.3 L258.7,92.3 L258.8,79.9 L258.9,97.1 L259.0,100.6 L259.1,137.5 L259.2,73.8 L259.3,112.8 L259.4,91.7 L259.5,92.6 L259.6,112.7 L259.7,103.4 L259.8,94.2 L259.9,99.6 L260.0,115.4 L260.1,99.9 L260.2,88.0 L260.3,99.6 L260.4,98.7 L260.5,92.6 L260.6,82.6 L260.7,103.2 L260.8,108.2 L260.9,104.4 L261.0,107.7 L261.1,122.3 L261.2,106.2 L261.3,116.0 L261.4,98.6 L261.5,107.7 L261.6,154.8 L261.7,119.6 L261.8,107.8 L261.9,114.3 L262.0,118.2 L262.1,115.3 L262.2,120.0 L262.3,109.8 L262.4,116.3 L262.5,123.3 L262.6,110.3 L262.7,129.2 L262.8,114.5 L262.9,127.3 L263.0,119.7 L263.1,121.1 L263.2,131.6 L263.3,123.6 L263.4,107.8 L263.5,133.1 L263.6,101.5 L263.7,115.6 L263.8,107.5 L263.9,130.8 L264.0,114.0 L264.1,122.1 L264.2,100.5 L264.3,131.4 L264.4,113.1 L264.5,136.7 L264.6,111.3 L264.7,132.1 L264.8,155.6 L264.9,166.3 L265.0,136.4 L265.1,110.1 L265.2,156.5 L265.3,142.0 L265.4,131.0 L265.5,130.4 L265.6,130.0 L265.7,109.9 L265.8,134.1 L265.9,162.2 L266.0,100.0 L266.1,138.4 L266.2,136.0 L266.3,133.8 L266.4,101.8 L266.5,112.9 L266.6,135.5 L266.7,139.5 L266.8,131.7 L266.9,147.2 L267.0,172.6 L267.1,146.0 L267.2,122.3 L267.3,146.8 L267.4,142.7 L267.5,110.3 L267.6,110.3 L267.7,109.9 L267.8,146.9 L267.9,134.6 L268.0,114.8 L268.1,123.7 L268.2,143.5 L268.3,142.4 L268.4,148.0 L268.5,145.8 L268.6,138.1 L268.7,138.3 L268.8,150.5 L268.9,134.1 L269.0,141.5 L269.1,118.8 L269.2,147.1 L269.3,141.7 L269.4,176.2 L269.5,132.3 L269.6,136.4 L269.7,130.4 L269.8,143.8 L269.9,143.9 L270.0,144.2 L270.1,120.4 L270.2,153.5 L270.3,144.5 L270.4,136.0 L270.5,146.2 L270.6,152.6 L270.7,145.7 L270.8,141.0 L270.9,123.0 L271.0,147.7 L271.1,175.3 L271.2,133.1 L271.3,144.1 L271.4,139.0 L271.5,144.3 L271.6,144.0 L271.7,168.1 L271.8,139.5 L271.9,154.4 L272.0,138.4 L272.1,168.5 L272.2,131.1 L272.3,144.3 L272.4,177.6 L272.5,143.0 L272.6,143.0 L272.7,142.9 L272.8,155.0 L272.9,112.8 L273.1,146.7 L273.2,134.1 L273.3,183.4 L273.4,138.5 L273.5,139.6 L273.6,142.3 L273.7,130.8 L273.8,147.3 L273.9,139.5 L274.0,141.9 L274.1,140.5 L274.2,152.4 L274.3,137.4 L274.4,138.2 L274.5,139.9 L274.6,139.6 L274.7,143.7 L274.8,146.2 L274.9,141.8 L275.0,138.7 L275.1,155.8 L275.2,140.4 L275.3,118.7 L275.4,133.4 L275.5,157.1 L275.6,125.7 L275.7,181.2 L275.8,141.0 L275.9,127.0 L276.0,133.2 L276.1,136.6 L276.2,159.4 L276.3,180.1 L276.4,134.3 L276.5,136.8 L276.6,114.2 L276.7,147.4 L276.8,162.1 L276.9,146.9 L277.0,190.3 L277.1,143.1 L277.2,138.4 L277.3,139.9 L277.4,109.9 L277.5,107.9 L277.6,142.6 L277.7,147.6 L277.8,120.4 L277.9,124.3 L278.0,106.0 L278.1,152.4 L278.2,153.9 L278.3,168.1 L278.4,147.0 L278.5,167.3 L278.6,129.9 L278.7,133.7 L278.8,185.0 L278.9,149.0 L279.0,147.8 L279.1,118.4 L279.2,149.2 L279.3,128.4 L279.4,113.9 L279.5,156.0 L279.6,132.7 L279.7,137.6 L279.8,126.4 L279.9,172.7 L280.0,143.3 L280.1,184.6 L280.2,130.0 L280.3,198.4 L280.4,138.7 L280.5,181.9 L280.6,153.4 L280.7,155.8 L280.8,139.5 L280.9,135.1 L281.0,125.2 L281.1,120.7 L281.2,140.4 L281.3,165.7 L281.4,123.7 L281.5,171.0 L281.6,141.5 L281.7,154.1 L281.8,152.4 L281.9,141.1 L282.0,168.5 L282.1,143.5 L282.2,143.8 L282.3,128.2 L282.4,126.6 L282.5,134.1 L282.6,144.3 L282.7,111.2 L282.8,130.4 L282.9,178.5 L283.0,205.0 L283.1,141.1 L283.2,163.9 L283.3,144.8 L283.4,151.2 L283.5,166.5 L283.6,147.8 L283.7,159.0 L283.8,178.5 L283.9,149.3 L284.0,204.4 L284.1,128.6 L284.2,154.6 L284.3,150.4 L284.4,133.9 L284.5,134.7 L284.6,155.3 L284.7,148.9 L284.8,128.4 L284.9,110.0 L285.0,110.0 L285.1,149.8 L285.2,176.6 L285.3,171.4 L285.4,156.3 L285.5,158.1 L285.6,178.2 L285.7,173.3 L285.8,158.2 L285.9,190.0 L286.0,157.1 L286.1,192.6 L286.2,114.7 L286.3,158.3 L286.4,143.5 L286.5,166.7 L286.6,129.9 L286.7,152.1 L286.8,144.8 L286.9,161.8 L287.0,149.0 L287.1,163.9 L287.2,150.1 L287.3,166.0 L287.4,166.5 L287.5,163.4 L287.6,164.6 L287.7,166.0 L287.8,173.1 L287.9,168.0 L288.0,144.0 L288.1,166.2 L288.2,162.9 L288.3,171.8 L288.4,136.2 L288.5,169.7 L288.6,161.1 L288.7,169.4 L288.8,143.6 L288.9,190.2 L289.0,200.9 L289.1,172.8 L289.2,212.3 L289.3,178.8 L289.4,178.3 L289.5,173.4 L289.6,162.1 L289.7,189.6 L289.8,165.5 L289.9,145.3 L290.0,132.0 L290.1,186.2 L290.2,175.7 L290.3,119.5 L290.4,184.7 L290.5,148.9 L290.6,169.1 L290.7,165.3 L290.8,198.5 L290.9,193.4 L291.0,183.8 L291.1,164.3 L291.2,159.5 L291.3,183.2 L291.4,171.1 L291.5,173.3 L291.6,186.7 L291.7,189.6 L291.8,210.6 L291.9,191.3 L292.0,224.7 L292.1,150.4 L292.2,161.3 L292.3,175.8 L292.4,171.7 L292.5,185.1 L292.6,221.1 L292.7,172.3 L292.8,167.4 L292.9,183.3 L293.0,152.1 L293.1,156.2 L293.2,161.8 L293.3,205.5 L293.4,172.2 L293.5,165.1 L293.6,182.6 L293.7,176.8 L293.8,159.8 L293.9,124.6 L294.0,160.0 L294.1,168.8 L294.2,174.5 L294.3,183.1 L294.4,178.6 L294.5,165.6 L294.6,172.4 L294.7,145.5 L294.8,191.4 L294.9,186.1 L295.0,166.5 L295.1,164.8 L295.2,164.8 L295.3,181.2 L295.4,180.0 L295.5,154.8 L295.6,167.2 L295.7,168.4 L295.9,156.9 L296.0,158.8 L296.1,160.7 L296.2,139.1 L296.3,185.2 L296.4,156.6 L296.5,165.6 L296.6,148.2 L296.7,171.6 L296.8,151.4 L296.9,159.5 L297.0,118.2 L297.1,153.4 L297.2,123.5 L297.3,161.1 L297.4,159.2 L297.5,149.7 L297.6,183.0 L297.7,163.2 L297.8,132.1 L297.9,137.8 L298.0,149.6 L298.1,136.0 L298.2,143.8 L298.3,142.9 L298.4,157.7 L298.5,135.2 L298.6,149.5 L298.7,125.0 L298.8,149.7 L298.9,101.9 L299.0,144.7 L299.1,151.0 L299.2,147.6 L299.3,136.4 L299.4,136.6 L299.5,141.2 L299.6,129.8 L299.7,107.9 L299.8,134.9 L299.9,127.5 L300.0,125.1 L300.1,124.9 L300.2,146.8 L300.3,112.1 L300.4,131.2 L300.5,129.7 L300.6,115.2 L300.7,156.9 L300.8,120.0 L300.9,125.6 L301.0,92.3 L301.1,122.0 L301.2,100.3 L301.3,106.8 L301.4,132.8 L301.5,124.0 L301.6,127.0 L301.7,122.7 L301.8,127.3 L301.9,133.9 L302.0,121.1 L302.1,121.4 L302.2,113.7 L302.3,83.7 L302.4,120.0 L302.5,118.7 L302.6,95.6 L302.7,101.4 L302.8,146.8 L302.9,116.1 L303.0,139.1 L303.1,125.3 L303.2,119.4 L303.3,115.1 L303.4,116.2 L303.5,112.5 L303.6,111.2 L303.7,91.5 L303.8,104.9 L303.9,127.5 L304.0,95.1 L304.1,109.4 L304.2,129.1 L304.3,124.7 L304.4,110.0 L304.5,109.5 L304.6,107.6 L304.7,136.8 L304.8,112.1 L304.9,78.9 L305.0,142.0 L305.1,131.5 L305.2,107.9 L305.3,106.5 L305.4,114.6 L305.5,107.0 L305.6,108.1 L305.7,119.2 L305.8,107.3 L305.9,110.0 L306.0,105.2 L306.1,101.7 L306.2,119.8 L306.3,107.3 L306.4,123.4 L306.5,110.3 L306.6,106.1 L306.7,101.3 L306.8,117.9 L306.9,102.1 L307.0,107.2 L307.1,110.3 L307.2,110.2 L307.3,112.6 L307.4,104.2 L307.5,124.0 L307.6,103.0 L307.7,112.1 L307.8,82.3 L307.9,111.8 L308.0,105.0 L308.1,99.1 L308.2,98.2 L308.3,79.5 L308.4,76.8 L308.5,108.4 L308.6,111.7 L308.7,82.1 L308.8,104.0 L308.9,108.5 L309.0,108.2 L309.1,95.3 L309.2,96.7 L309.3,144.1 L309.4,116.7 L309.5,113.6 L309.6,120.9 L309.7,89.1 L309.8,94.9 L309.9,110.3 L310.0,91.2 L310.1,111.9 L310.2,91.8 L310.3,101.9 L310.4,109.1 L310.5,105.6 L310.6,114.0 L310.7,95.6 L310.8,113.1 L310.9,105.2 L311.0,118.1 L311.1,117.8 L311.2,111.0 L311.3,110.9 L311.4,92.3 L311.5,113.5 L311.6,109.2 L311.7,108.8 L311.8,74.8 L311.9,112.1 L312.0,74.7 L312.1,135.0 L312.2,116.9 L312.3,114.4 L312.4,130.6 L312.5,131.2 L312.6,127.5 L312.7,116.2 L312.8,110.5 L312.9,124.7 L313.0,126.9 L313.1,99.6 L313.2,88.5 L313.3,112.8 L313.4,123.7 L313.5,124.1 L313.6,111.3 L313.7,148.7 L313.8,145.5 L313.9,106.4 L314.0,142.4 L314.1,128.8 L314.2,77.6 L314.3,124.4 L314.4,98.1 L314.5,121.0 L314.6,130.4 L314.7,116.1 L314.8,119.9 L314.9,109.6 L315.0,136.4 L315.1,115.1 L315.2,118.5 L315.3,110.0 L315.4,118.0 L315.5,128.9 L315.6,98.3 L315.7,107.8 L315.8,107.4 L315.9,113.2 L316.0,116.8 L316.1,123.9 L316.2,142.2 L316.3,138.6 L316.4,120.3 L316.5,152.5 L316.6,124.9 L316.7,108.4 L316.8,128.8 L316.9,81.2 L317.0,141.7 L317.1,111.8 L317.2,147.6 L317.3,116.6 L317.4,89.1 L317.5,121.0 L317.6,134.2 L317.7,132.2 L317.8,111.8 L317.9,108.0 L318.0,115.0 L318.1,122.4 L318.2,131.3 L318.3,127.0 L318.4,130.5 L318.5,141.6 L318.7,102.9 L318.8,98.2 L318.9,97.0 L319.0,91.1 L319.1,125.1 L319.2,155.2 L319.3,114.6 L319.4,118.5 L319.5,136.1 L319.6,112.2 L319.7,120.9 L319.8,109.0 L319.9,111.7 L320.0,158.0 L320.1,113.7 L320.2,121.6 L320.3,111.2 L320.4,113.5 L320.5,131.4 L320.6,109.5 L320.7,115.0 L320.8,113.7 L320.9,110.5 L321.0,72.0 L321.1,108.3 L321.2,113.0 L321.3,121.7 L321.4,152.6 L321.5,109.6 L321.6,109.0 L321.7,118.4 L321.8,101.3 L321.9,105.2 L322.0,101.5 L322.1,110.8 L322.2,83.9 L322.3,101.4 L322.4,117.6 L322.5,105.7 L322.6,92.9 L322.7,116.4 L322.8,86.1 L322.9,110.9 L323.0,154.4 L323.1,96.0 L323.2,112.0 L323.3,102.7 L323.4,104.6 L323.5,87.7 L323.6,102.2 L323.7,91.3 L323.8,119.9 L323.9,100.8 L324.0,109.3 L324.1,100.7 L324.2,54.5 L324.3,112.3 L324.4,97.2 L324.5,103.9 L324.6,96.2 L324.7,113.1 L324.8,106.9 L324.9,136.7 L325.0,80.0 L325.1,97.9 L325.2,96.7 L325.3,124.3 L325.4,72.5 L325.5,82.0 L325.6,102.3 L325.7,95.6 L325.8,100.4 L325.9,84.7 L326.0,152.8 L326.1,95.6 L326.2,95.0 L326.3,77.4 L326.4,115.7 L326.5,108.8 L326.6,116.6 L326.7,83.1 L326.8,92.3 L326.9,79.3 L327.0,84.8 L327.1,87.7 L327.2,117.7 L327.3,97.3 L327.4,70.5 L327.5,92.3 L327.6,112.0 L327.7,108.8 L327.8,100.6 L327.9,97.5 L328.0,43.2 L328.1,95.3 L328.2,90.3 L328.3,77.3 L328.4,87.2 L328.5,141.1 L328.6,47.1 L328.7,100.5 L328.8,119.7 L328.9,77.6 L329.0,70.0 L329.1,91.2 L329.2,73.2 L329.3,98.3 L329.4,98.2 L329.5,120.7 L329.6,81.2 L329.7,96.4 L329.8,65.5 L329.9,101.4 L330.0,80.0 L330.1,98.2 L330.2,65.7 L330.3,99.4 L330.4,74.1 L330.5,118.4 L330.6,104.6 L330.7,107.0 L330.8,80.8 L330.9,158.7 L331.0,124.5 L331.1,100.0 L331.2,103.3 L331.3,103.7 L331.4,98.7 L331.5,105.8 L331.6,95.4 L331.7,81.0 L331.8,121.6 L331.9,82.8 L332.0,118.7 L332.1,135.0 L332.2,108.2 L332.3,109.0 L332.4,106.6 L332.5,132.7 L332.6,110.7 L332.7,119.4 L332.8,93.4 L332.9,111.6 L333.0,123.9 L333.1,137.8 L333.2,113.6 L333.3,97.0 L333.4,166.2 L333.5,128.3 L333.6,107.2 L333.7,109.9 L333.8,119.4 L333.9,118.7 L334.0,124.8 L334.1,137.3 L334.2,122.8 L334.3,117.2 L334.4,118.8 L334.5,159.8 L334.6,123.4 L334.7,133.3 L334.8,113.6 L334.9,156.5 L335.0,149.3 L335.1,156.6 L335.2,79.5 L335.3,109.5 L335.4,127.7 L335.5,119.6 L335.6,174.9 L335.7,129.6 L335.8,103.4 L335.9,129.6 L336.0,161.5 L336.1,139.8 L336.2,139.8 L336.3,131.9 L336.4,132.3 L336.5,139.0 L336.6,172.6 L336.7,132.8 L336.8,133.2 L336.9,178.6 L337.0,131.0 L337.1,136.1 L337.2,118.5 L337.3,130.7 L337.4,147.5 L337.5,155.2 L337.6,103.9 L337.7,119.3 L337.8,131.7 L337.9,126.9 L338.0,189.5 L338.1,124.1 L338.2,139.7 L338.3,139.3 L338.4,127.0 L338.5,134.4 L338.6,181.2 L338.7,133.4 L338.8,141.5 L338.9,124.9 L339.0,139.7 L339.1,134.7 L339.2,161.0 L339.3,156.3 L339.4,165.4 L339.5,138.8 L339.6,158.4 L339.7,144.4 L339.8,100.6 L339.9,128.8 L340.0,91.0 L340.1,149.3 L340.2,152.3 L340.3,144.4 L340.4,134.3 L340.5,147.2 L340.6,108.4 L340.7,147.8 L340.8,121.8 L340.9,149.2 L341.0,147.5 L341.1,138.5 L341.2,142.6 L341.3,144.3 L341.4,144.8 L341.6,139.9 L341.7,145.5 L341.8,114.0 L341.9,133.6 L342.0,137.4 L342.1,149.8 L342.2,91.3 L342.3,139.6 L342.4,146.3 L342.5,149.0 L342.6,177.6 L342.7,146.1 L342.8,168.0 L342.9,158.0 L343.0,125.2 L343.1,143.5 L343.2,148.5 L343.3,117.9 L343.4,146.1 L343.5,109.8 L343.6,141.9 L343.7,137.5 L343.8,142.1 L343.9,143.6 L344.0,138.2 L344.1,121.3 L344.2,138.2 L344.3,148.0 L344.4,160.8 L344.5,110.6 L344.6,143.0 L344.7,151.5 L344.8,129.3 L344.9,128.5 L345.0,125.6 L345.1,141.6 L345.2,172.2 L345.3,125.3 L345.4,134.3 L345.5,133.9 L345.6,145.1 L345.7,117.9 L345.8,131.3 L345.9,125.7 L346.0,83.7 L346.1,132.5 L346.2,133.2 L346.3,132.6 L346.4,160.1 L346.5,131.9 L346.6,104.5 L346.7,111.4 L346.8,132.9 L346.9,143.0 L347.0,120.1 L347.1,126.6 L347.2,125.0 L347.3,82.4 L347.4,126.7 L347.5,96.8 L347.6,120.8 L347.7,105.5 L347.8,130.9 L347.9,123.3 L348.0,64.2 L348.1,123.0 L348.2,121.4 L348.3,123.3 L348.4,65.1 L348.5,162.4 L348.6,104.1 L348.7,118.9 L348.8,134.6 L348.9,125.2 L349.0,141.8 L349.1,108.2 L349.2,104.4 L349.3,111.5 L349.4,73.3 L349.5,144.8 L349.6,135.0 L349.7,119.4 L349.8,103.5 L349.9,108.7 L350.0,129.0 L350.1,113.8 L350.2,104.6 L350.3,137.9 L350.4,107.6 L350.5,101.3 L350.6,98.1 L350.7,98.4 L350.8,114.7 L350.9,159.0 L351.0,136.9 L351.1,125.0 L351.2,113.0 L351.3,103.5 L351.4,110.0 L351.5,108.3 L351.6,91.7 L351.7,141.8 L351.8,108.0 L351.9,103.6 L352.0,93.3 L352.1,73.9 L352.2,97.6 L352.3,126.6 L352.4,103.7 L352.5,121.3 L352.6,105.2 L352.7,116.2 L352.8,114.3 L352.9,106.2 L353.0,117.8 L353.1,107.1 L353.2,107.7 L353.3,103.7 L353.4,116.9 L353.5,132.8 L353.6,155.2 L353.7,104.4 L353.8,102.7 L353.9,129.5 L354.0,159.0 L354.1,102.3 L354.2,107.1 L354.3,100.1 L354.4,107.3 L354.5,92.7 L354.6,105.1 L354.7,108.1 L354.8,97.7 L354.9,131.5 L355.0,108.2 L355.1,107.7 L355.2,111.8 L355.3,106.6 L355.4,113.7 L355.5,150.5 L355.6,81.2 L355.7,109.2 L355.8,112.2 L355.9,142.0 L356.0,109.6 L356.1,111.9 L356.2,144.1 L356.3,99.8 L356.4,102.9 L356.5,159.5 L356.6,105.3 L356.7,124.0 L356.8,105.7 L356.9,108.6 L357.0,103.1 L357.1,108.7 L357.2,96.8 L357.3,116.3 L357.4,116.6 L357.5,116.6 L357.6,118.8 L357.7,84.6 L357.8,113.7 L357.9,101.0 L358.0,113.8 L358.1,115.7 L358.2,106.7 L358.3,124.4 L358.4,110.6 L358.5,101.9 L358.6,116.6 L358.7,116.6 L358.8,128.1 L358.9,111.7 L359.0,108.5 L359.1,106.7 L359.2,123.3 L359.3,119.4 L359.4,133.6 L359.5,117.3 L359.6,113.8 L359.7,120.3 L359.8,121.6 L359.9,118.2 L360.0,119.9 L360.1,118.0 L360.2,132.9 L360.3,136.3 L360.4,129.2 L360.5,138.5 L360.6,121.8 L360.7,87.0 L360.8,124.4 L360.9,160.4 L361.0,137.4 L361.1,142.2 L361.2,121.3 L361.3,124.9 L361.4,94.6 L361.5,126.5 L361.6,128.1 L361.7,108.0 L361.8,141.4 L361.9,128.1 L362.0,111.1 L362.1,126.9 L362.2,124.9 L362.3,135.9 L362.4,144.1 L362.5,130.8 L362.6,115.3 L362.7,133.1 L362.8,138.7 L362.9,144.9 L363.0,88.0 L363.1,145.4 L363.2,134.6 L363.3,140.4 L363.4,122.1 L363.5,147.7 L363.6,143.8 L363.7,130.3 L363.8,146.8 L363.9,125.7 L364.0,110.2 L364.1,131.6 L364.2,161.3 L364.4,136.2 L364.5,133.4 L364.6,105.7 L364.7,99.9 L364.8,114.9 L364.9,132.5 L365.0,133.5 L365.1,133.0 L365.2,136.3 L365.3,134.9 L365.4,136.0 L365.5,132.8 L365.6,107.2 L365.7,143.9 L365.8,88.0 L365.9,123.9 L366.0,117.4 L366.1,132.5 L366.2,132.5 L366.3,108.4 L366.4,135.2 L366.5,143.2 L366.6,132.1 L366.7,137.2 L366.8,104.4 L366.9,130.4 L367.0,124.2 L367.1,130.8 L367.2,131.0 L367.3,108.7 L367.4,127.0 L367.5,98.5 L367.6,162.4 L367.7,124.0 L367.8,114.5 L367.9,129.7 L368.0,161.2 L368.1,129.1 L368.2,130.4 L368.3,98.7 L368.4,102.4 L368.5,115.1 L368.6,125.9 L368.7,124.5 L368.8,125.1 L368.9,113.1 L369.0,126.0 L369.1,119.0 L369.2,115.1 L369.3,125.7 L369.4,123.4 L369.5,128.8 L369.6,134.5 L369.7,127.9 L369.8,129.0 L369.9,142.2 L370.0,122.3 L370.1,113.7 L370.2,112.4 L370.3,101.6 L370.4,123.0 L370.5,84.4 L370.6,123.1 L370.7,119.4 L370.8,102.0 L370.9,142.4 L371.0,116.3 L371.1,116.5 L371.2,81.6 L371.3,123.7 L371.4,117.6 L371.5,163.3 L371.6,118.7 L371.7,140.8 L371.8,134.4 L371.9,110.6 L372.0,123.4 L372.1,136.0 L372.2,108.3 L372.3,116.1 L372.4,119.8 L372.5,141.4 L372.6,124.4 L372.7,136.2 L372.8,118.2 L372.9,118.9 L373.0,65.5 L373.1,123.3 L373.2,117.9 L373.3,86.3 L373.4,120.4 L373.5,88.0 L373.6,92.8 L373.7,93.8 L373.8,155.0 L373.9,108.3 L374.0,114.6 L374.1,112.2 L374.2,117.3 L374.3,117.4 L374.4,135.3 L374.5,138.4 L374.6,113.5 L374.7,130.0 L374.8,121.2 L374.9,107.9 L375.0,103.2 L375.1,115.9 L375.2,162.4 L375.3,113.6 L375.4,108.3 L375.5,115.0 L375.6,117.7 L375.7,128.6 L375.8,114.9 L375.9,83.4 L376.0,112.0 L376.1,117.7 L376.2,125.3 L376.3,113.9 L376.4,133.7 L376.5,120.2 L376.6,117.9 L376.7,118.2 L376.8,115.1 L376.9,117.6 L377.0,131.5 L377.1,150.6 L377.2,117.9 L377.3,165.5 L377.4,136.5 L377.5,98.0 L377.6,126.1 L377.7,107.4 L377.8,125.5 L377.9,119.0 L378.0,114.4 L378.1,107.3 L378.2,123.2 L378.3,134.7 L378.4,122.6 L378.5,142.2 L378.6,142.1 L378.7,112.1 L378.8,132.4 L378.9,108.6 L379.0,110.0 L379.1,132.9 L379.2,128.9 L379.3,127.7 L379.4,113.7 L379.5,127.5 L379.6,110.1 L379.7,128.6 L379.8,111.2 L379.9,130.3 L380.0,106.9 L380.1,117.9 L380.2,106.5 L380.3,115.3 L380.4,172.2 L380.5,92.1 L380.6,131.5 L380.7,164.1 L380.8,140.8 L380.9,149.3 L381.0,125.9 L381.1,138.7 L381.2,136.6 L381.3,121.4 L381.4,153.3 L381.5,153.2 L381.6,137.6 L381.7,155.2 L381.8,129.0 L381.9,151.4 L382.0,149.6 L382.1,132.9 L382.2,117.3 L382.3,144.4 L382.4,147.0 L382.5,158.5 L382.6,147.7 L382.7,149.1 L382.8,156.6 L382.9,150.7 L383.0,135.5 L383.1,148.9 L383.2,181.7 L383.3,125.2 L383.4,136.8 L383.5,162.7 L383.6,135.3 L383.7,162.9 L383.8,148.3 L383.9,153.5 L384.0,161.8 L384.1,152.6 L384.2,155.3 L384.3,155.4 L384.4,167.7 L384.5,148.7 L384.6,159.3 L384.7,137.0 L384.8,148.4 L384.9,151.9 L385.0,168.3 L385.1,122.1 L385.2,158.2 L385.3,162.3 L385.4,166.6 L385.5,163.3 L385.6,146.8 L385.7,192.7 L385.8,159.5 L385.9,178.7 L386.0,173.7 L386.1,161.1 L386.2,160.4 L386.3,167.9 L386.4,164.0 L386.5,140.8 L386.6,167.2 L386.7,179.2 L386.8,170.4 L386.9,171.0 L387.0,144.8 L387.2,171.8 L387.3,192.0 L387.4,185.8 L387.5,159.0 L387.6,167.7 L387.7,183.4 L387.8,189.0 L387.9,165.9 L388.0,186.3 L388.1,173.3 L388.2,166.5 L388.3,168.4 L388.4,182.6 L388.5,169.8 L388.6,195.1 L388.7,172.4 L388.8,178.6 L388.9,203.2 L389.0,163.1 L389.1,175.1 L389.2,171.7 L389.3,177.7 L389.4,137.8 L389.5,159.2 L389.6,175.1 L389.7,152.3 L389.8,166.9 L389.9,157.6 L390.0,210.5 L390.1,172.4 L390.2,187.7 L390.3,174.1 L390.4,176.1 L390.5,172.2 L390.6,208.3 L390.7,175.8 L390.8,194.3 L390.9,164.7 L391.0,171.5 L391.1,168.7 L391.2,164.6 L391.3,167.1 L391.4,177.9 L391.5,171.3 L391.6,201.8 L391.7,173.5 L391.8,172.7 L391.9,171.5 L392.0,167.7 L392.1,169.9 L392.2,135.3 L392.3,155.1 L392.4,168.7 L392.5,169.7 L392.6,171.1 L392.7,147.3 L392.8,172.4 L392.9,153.4 L393.0,175.3 L393.1,166.7 L393.2,176.5 L393.3,160.8 L393.4,163.7 L393.5,167.3 L393.6,178.8 L393.7,195.8 L393.8,166.6 L393.9,147.8 L394.0,169.5 L394.1,160.8 L394.2,168.4 L394.3,153.8 L394.4,167.3 L394.5,137.2 L394.6,166.2 L394.7,160.8 L394.8,120.9 L394.9,156.1 L395.0,157.7 L395.1,158.1 L395.2,152.3 L395.3,163.1 L395.4,163.8 L395.5,121.4 L395.6,155.3 L395.7,152.7 L395.8,154.4 L395.9,152.8 L396.0,127.4 L396.1,150.7 L396.2,152.6 L396.3,155.8 L396.4,149.4 L396.5,125.6 L396.6,153.4 L396.7,152.1 L396.8,121.5 L396.9,145.4 L397.0,118.3 L397.1,157.0 L397.2,152.8 L397.3,156.2 L397.4,138.3 L397.5,162.9 L397.6,136.2 L397.7,145.2 L397.8,136.0 L397.9,126.8 L398.0,121.8 L398.1,177.5 L398.2,130.9 L398.3,115.8 L398.4,143.9 L398.5,127.7 L398.6,128.6 L398.7,125.2 L398.8,147.7 L398.9,106.2 L399.0,149.4 L399.1,129.1 L399.2,125.3 L399.3,126.6 L399.4,129.2 L399.5,95.9 L399.6,120.9 L399.7,128.1 L399.8,105.5 L399.9,146.6 L400.0,137.1 L400.1,143.6 L400.2,144.5 L400.3,111.4 L400.4,131.4 L400.5,93.4 L400.6,120.3 L400.7,172.6 L400.8,135.1 L400.9,135.9 L401.0,137.4 L401.1,90.0 L401.2,136.2 L401.3,114.6 L401.4,133.1 L401.5,133.0 L401.6,136.1 L401.7,96.0 L401.8,132.3 L401.9,140.2 L402.0,130.8 L402.1,145.4 L402.2,107.0 L402.3,141.9 L402.4,135.8 L402.5,129.6 L402.6,139.4 L402.7,102.7 L402.8,131.3 L402.9,130.4 L403.0,130.6 L403.1,131.1 L403.2,130.1 L403.3,86.6 L403.4,132.3 L403.5,145.6 L403.6,107.5 L403.7,114.8 L403.8,134.8 L403.9,134.9 L404.0,106.6 L404.1,129.6 L404.2,131.1 L404.3,131.6 L404.4,138.2 L404.5,122.7 L404.6,154.0 L404.7,147.6 L404.8,163.4 L404.9,137.5 L405.0,85.3 L405.1,129.1 L405.2,135.2 L405.3,132.0 L405.4,116.4 L405.5,131.2 L405.6,135.0 L405.7,134.2 L405.8,135.8 L405.9,131.6 L406.0,131.1 L406.1,96.6 L406.2,116.9 L406.3,126.6 L406.4,135.0 L406.5,127.3 L406.6,138.6 L406.7,148.0 L406.8,124.7 L406.9,115.0 L407.0,166.9 L407.1,111.1 L407.2,146.0 L407.3,139.8 L407.4,129.1 L407.5,134.2 L407.6,133.7 L407.7,140.8 L407.8,112.9 L407.9,134.3 L408.0,134.7 L408.1,101.2 L408.2,134.0 L408.3,127.2 L408.4,122.9 L408.5,134.2 L408.6,143.1 L408.7,127.0 L408.8,137.5 L408.9,109.9 L409.0,115.0 L409.1,168.0 L409.2,87.6 L409.3,143.5 L409.4,132.5 L409.5,130.3 L409.6,134.8 L409.7,131.2 L409.8,110.0 L409.9,168.4 L410.1,135.2 L410.2,134.2 L410.3,134.9 L410.4,135.1 L410.5,134.9 L410.6,135.0 L410.7,122.3 L410.8,137.4 L410.9,140.6 L411.0,113.6 L411.1,134.9 L411.2,113.0 L411.3,132.6 L411.4,139.8 L411.5,128.7 L411.6,98.0 L411.7,138.3 L411.8,134.5 L411.9,148.4 L412.0,130.0 L412.1,133.4 L412.2,90.2 L412.3,160.3 L412.4,126.1 L412.5,131.0 L412.6,124.4 L412.7,132.5 L412.8,128.9 L412.9,134.1 L413.0,132.7 L413.1,119.1 L413.2,164.2 L413.3,113.7 L413.4,134.1 L413.5,129.8 L413.6,111.5 L413.7,111.3 L413.8,126.7 L413.9,128.5 L414.0,142.4 L414.1,127.6 L414.2,128.5 L414.3,129.9 L414.4,136.1 L414.5,126.7 L414.6,115.9 L414.7,130.0 L414.8,143.1 L414.9,115.7 L415.0,134.0 L415.1,129.1 L415.2,125.9 L415.3,127.9 L415.4,136.9 L415.5,132.0 L415.6,122.6 L415.7,126.7 L415.8,120.8 L415.9,115.2 L416.0,110.8 L416.1,133.0 L416.2,126.2 L416.3,121.5 L416.4,120.5 L416.5,116.2 L416.6,116.9 L416.7,146.6 L416.8,141.3 L416.9,114.7 L417.0,106.1 L417.1,104.7 L417.2,112.0 L417.3,111.7 L417.4,132.5 L417.5,136.7 L417.6,112.3 L417.7,71.0 L417.8,101.8 L417.9,113.8 L418.0,118.0 L418.1,114.4 L418.2,116.5 L418.3,94.8 L418.4,122.2 L418.5,103.4 L418.6,112.5 L418.7,103.6 L418.8,94.5 L418.9,103.3 L419.0,102.7 L419.1,115.3 L419.2,112.1 L419.3,82.1 L419.4,105.4 L419.5,100.7 L419.6,112.4 L419.7,96.3 L419.8,107.5 L419.9,95.9 L420.0,100.0 L420.1,103.1 L420.2,92.9 L420.3,84.7 L420.4,108.0 L420.5,79.4 L420.6,92.9 L420.7,82.3 L420.8,76.0 L420.9,96.7 L421.0,93.7 L421.1,89.8 L421.2,74.5 L421.3,122.6 L421.4,59.7 L421.5,90.8 L421.6,109.1 L421.7,89.6 L421.8,98.1 L421.9,52.0 L422.0,90.7 L422.1,92.0 L422.2,89.3 L422.3,95.5 L422.4,85.6 L422.5,80.6 L422.6,85.0 L422.7,94.0 L422.8,74.7 L422.9,85.1 L423.0,85.8 L423.1,70.5 L423.2,83.1 L423.3,129.7 L423.4,78.7 L423.5,109.6 L423.6,96.6 L423.7,85.3 L423.8,81.9 L423.9,80.2 L424.0,85.3 L424.1,72.3 L424.2,79.6 L424.3,84.0 L424.4,103.5 L424.5,78.6 L424.6,96.0 L424.7,90.2 L424.8,86.4 L424.9,88.0 L425.0,47.1 L425.1,81.7 L425.2,92.2 L425.3,89.0 L425.4,76.1 L425.5,59.4 L425.6,80.5 L425.7,92.0 L425.8,89.5 L425.9,71.6 L426.0,81.8 L426.1,100.1 L426.2,54.7 L426.3,76.6 L426.4,90.0 L426.5,90.3 L426.6,110.4 L426.7,124.8 L426.8,82.6 L426.9,95.0 L427.0,71.5 L427.1,91.9 L427.2,85.1 L427.3,78.8 L427.4,108.7 L427.5,82.6 L427.6,115.0 L427.7,56.8 L427.8,108.0 L427.9,98.3 L428.0,56.4 L428.1,91.7 L428.2,83.0 L428.3,88.3 L428.4,129.9 L428.5,88.5 L428.6,101.2 L428.7,71.7 L428.8,104.4 L428.9,73.3 L429.0,94.2 L429.1,89.7 L429.2,60.2 L429.3,96.0 L429.4,96.2 L429.5,89.9 L429.6,106.9 L429.7,89.0 L429.8,89.2 L429.9,95.6 L430.0,123.8 L430.1,136.8 L430.2,106.9 L430.3,102.0 L430.4,138.9 L430.5,101.2 L430.6,99.5 L430.7,100.1 L430.8,90.4 L430.9,105.9 L431.0,100.9 L431.1,111.7 L431.2,96.1 L431.3,105.6 L431.4,105.8 L431.5,104.7 L431.6,133.6 L431.7,99.6 L431.8,111.7 L431.9,108.6 L432.0,109.0 L432.1,74.5 L432.2,109.0 L432.3,114.2 L432.4,110.6 L432.5,112.4 L432.6,113.2 L432.7,111.5 L432.9,104.1 L433.0,124.0 L433.1,111.7 L433.2,114.8 L433.3,114.5 L433.4,107.6 L433.5,116.5 L433.6,152.0 L433.7,112.4 L433.8,112.5 L433.9,113.3 L434.0,123.6 L434.1,99.6 L434.2,120.3 L434.3,126.6 L434.4,85.7 L434.5,153.6 L434.6,114.8 L434.7,117.3 L434.8,124.1 L434.9,128.6 L435.0,100.6 L435.1,107.2 L435.2,98.1 L435.3,124.2 L435.4,124.9 L435.5,125.2 L435.6,137.0 L435.7,107.7 L435.8,110.6 L435.9,118.6 L436.0,139.6 L436.1,127.7 L436.2,124.7 L436.3,123.1 L436.4,132.9 L436.5,120.8 L436.6,100.8 L436.7,152.6 L436.8,133.3 L436.9,151.7 L437.0,155.1 L437.1,137.8 L437.2,128.5 L437.3,127.1 L437.4,131.6 L437.5,121.4 L437.6,125.9 L437.7,136.2 L437.8,127.2 L437.9,131.4 L438.0,131.6 L438.1,148.4 L438.2,127.6 L438.3,141.2 L438.4,115.5 L438.5,133.6 L438.6,125.9 L438.7,136.4 L438.8,162.6 L438.9,131.7 L439.0,147.1 L439.1,132.6 L439.2,136.4 L439.3,101.6 L439.4,134.1 L439.5,132.4 L439.6,133.1 L439.7,107.2 L439.8,131.0 L439.9,131.6 L440.0,104.4 L440.1,111.0 L440.2,132.9 L440.3,160.2 L440.4,123.1 L440.5,131.0 L440.6,141.3 L440.7,126.0 L440.8,128.8 L440.9,150.3 L441.0,120.9 L441.1,126.7 L441.2,106.1 L441.3,130.7 L441.4,104.1 L441.5,129.3 L441.6,129.7 L441.7,128.0 L441.8,122.9 L441.9,142.4 L442.0,110.9 L442.1,125.3 L442.2,116.2 L442.3,126.0 L442.4,122.7 L442.5,125.0 L442.6,157.3 L442.7,164.4 L442.8,130.3 L442.9,93.9 L443.0,142.3 L443.1,121.9 L443.2,112.1 L443.3,128.6 L443.4,119.6 L443.5,124.0 L443.6,85.3 L443.7,112.2 L443.8,146.6 L443.9,124.9 L444.0,145.3 L444.1,125.4 L444.2,134.6 L444.3,137.6 L444.4,104.6 L444.5,119.8 L444.6,118.6 L444.7,109.8 L444.8,106.1 L444.9,119.7 L445.0,162.3 L445.1,110.0 L445.2,118.1 L445.3,165.4 L445.4,125.2 L445.5,140.1 L445.6,143.3 L445.7,105.0 L445.8,127.7 L445.9,121.4 L446.0,128.2 L446.1,99.0 L446.2,142.2 L446.3,120.7 L446.4,106.3 L446.5,119.8 L446.6,130.0 L446.7,145.5 L446.8,98.7 L446.9,112.0 L447.0,115.9 L447.1,118.7 L447.2,107.6 L447.3,112.1 L447.4,143.2 L447.5,118.5 L447.6,102.8 L447.7,91.4 L447.8,167.7 L447.9,109.6 L448.0,85.3 L448.1,113.1 L448.2,88.0 L448.3,119.7 L448.4,116.3 L448.5,119.7 L448.6,122.0 L448.7,108.2 L448.8,118.3 L448.9,102.4 L449.0,111.1 L449.1,133.9 L449.2,103.5 L449.3,169.9 L449.4,121.7 L449.5,126.3 L449.6,135.4 L449.7,116.6 L449.8,93.6 L449.9,107.6 L450.0,115.8 L450.1,139.9 L450.2,112.2 L450.3,125.1 L450.4,125.2 L450.5,115.5 L450.6,129.3 L450.7,129.2 L450.8,117.0 L450.9,126.9 L451.0,110.4 L451.1,143.1 L451.2,111.9 L451.3,113.7 L451.4,119.6 L451.5,155.6 L451.6,111.0 L451.7,142.0 L451.8,106.0 L451.9,116.6 L452.0,176.6 L452.1,118.6 L452.2,114.4 L452.3,115.1 L452.4,122.6 L452.5,122.4 L452.6,86.3 L452.7,120.1 L452.8,113.3 L452.9,122.7 L453.0,176.0 L453.1,118.1 L453.2,126.9 L453.3,125.2 L453.4,127.7 L453.5,144.9 L453.6,138.1 L453.7,144.5 L453.8,122.9 L453.9,132.4 L454.0,130.9 L454.1,140.3 L454.2,114.9 L454.3,131.3 L454.4,130.1 L454.5,126.8 L454.6,138.1 L454.7,131.3 L454.8,123.2 L454.9,87.5 L455.0,131.8 L455.1,133.8 L455.2,130.7 L455.3,135.1 L455.4,148.7 L455.5,135.6 L455.7,137.1 L455.8,133.6 L455.9,176.9 L456.0,135.7 L456.1,136.8 L456.2,135.9 L456.3,139.7 L456.4,137.4 L456.5,155.7 L456.6,143.3 L456.7,147.4 L456.8,120.7 L456.9,134.4 L457.0,144.0 L457.1,160.4 L457.2,140.1 L457.3,136.2 L457.4,151.2 L457.5,141.0 L457.6,142.9 L457.7,137.4 L457.8,141.6 L457.9,145.5 L458.0,145.6 L458.1,114.7 L458.2,131.8 L458.3,118.4 L458.4,141.6 L458.5,140.7 L458.6,112.7 L458.7,147.1 L458.8,143.3 L458.9,142.1 L459.0,160.3 L459.1,90.0 L459.2,168.3 L459.3,163.8 L459.4,154.7 L459.5,144.0 L459.6,132.0 L459.7,105.6 L459.8,136.0 L459.9,152.5 L460.0,139.7 L460.1,168.3 L460.2,111.6 L460.3,146.3 L460.4,185.3 L460.5,146.0 L460.6,141.2 L460.7,161.6 L460.8,151.2 L460.9,148.8 L461.0,145.6 L461.1,162.9 L461.2,135.5 L461.3,148.2 L461.4,186.4 L461.5,160.5 L461.6,113.6 L461.7,95.1 L461.8,134.1 L461.9,144.3 L462.0,191.0 L462.1,168.2 L462.2,166.3 L462.3,103.9 L462.4,188.7 L462.5,142.1 L462.6,87.1 L462.7,134.0 L462.8,161.2 L462.9,144.2 L463.0,131.5 L463.1,152.7 L463.2,143.3 L463.3,120.3 L463.4,152.1 L463.5,140.3 L463.6,133.7 L463.7,138.5 L463.8,138.7 L463.9,122.8 L464.0,112.8 L464.1,101.5 L464.2,98.3 L464.3,126.0 L464.4,140.3 L464.5,148.9 L464.6,116.1 L464.7,142.5 L464.8,162.9 L464.9,134.9 L465.0,145.6 L465.1,135.8 L465.2,171.3 L465.3,141.4 L465.4,109.2 L465.5,131.7 L465.6,149.0 L465.7,138.1 L465.8,120.1 L465.9,130.6 L466.0,127.6 L466.1,143.7 L466.2,129.2 L466.3,130.5 L466.4,129.5 L466.5,90.9 L466.6,130.4 L466.7,131.5 L466.8,127.1 L466.9,139.1 L467.0,131.1 L467.1,137.3 L467.2,125.1 L467.3,128.1 L467.4,143.8 L467.5,127.4 L467.6,132.9 L467.7,147.2 L467.8,123.5 L467.9,105.5 L468.0,160.6 L468.1,120.9 L468.2,102.5 L468.3,108.6 L468.4,100.6 L468.5,90.2 L468.6,113.5 L468.7,95.0 L468.8,98.4 L468.9,116.8 L469.0,126.7 L469.1,78.3 L469.2,97.3 L469.3,113.2 L469.4,117.1 L469.5,124.5 L469.6,109.9 L469.7,113.3 L469.8,115.5 L469.9,112.9 L470.0,106.4 L470.1,109.8 L470.2,107.2 L470.3,139.7 L470.4,89.4 L470.5,104.4 L470.6,107.8 L470.7,105.8 L470.8,113.4 L470.9,105.2 L471.0,107.1 L471.1,107.3 L471.2,78.0 L471.3,94.7 L471.4,109.7 L471.5,118.4 L471.6,103.6 L471.7,110.6 L471.8,107.3 L471.9,107.4 L472.0,126.4 L472.1,102.2 L472.2,107.2 L472.3,111.3 L472.4,105.2 L472.5,107.0 L472.6,111.1 L472.7,155.7 L472.8,105.5 L472.9,95.0 L473.0,105.3 L473.1,105.2 L473.2,106.0 L473.3,107.4 L473.4,121.9 L473.5,74.0 L473.6,105.3 L473.7,106.1 L473.8,102.2 L473.9,80.7 L474.0,73.4 L474.1,102.5 L474.2,121.7 L474.3,110.6 L474.4,107.0 L474.5,109.6 L474.6,107.1 L474.7,112.6 L474.8,78.9 L474.9,119.0 L475.0,155.6 L475.1,107.7 L475.2,107.8 L475.3,142.5 L475.4,101.8 L475.5,110.3 L475.6,101.9 L475.7,106.1 L475.8,96.0 L475.9,109.7 L476.0,122.0 L476.1,114.8 L476.2,111.6 L476.3,114.4 L476.4,114.8 L476.5,110.0 L476.6,112.5 L476.7,114.6 L476.8,134.4 L476.9,136.8 L477.0,112.8 L477.1,102.6 L477.2,107.7 L477.3,149.8 L477.4,117.4 L477.5,116.2 L477.6,108.9 L477.7,115.1 L477.8,125.9 L477.9,137.0 L478.0,124.8 L478.1,121.6 L478.2,125.9 L478.3,99.1 L478.5,91.7 L478.6,124.6 L478.7,125.0 L478.8,146.9 L478.9,105.9 L479.0,117.8 L479.1,115.5 L479.2,128.3 L479.3,128.5 L479.4,129.4 L479.5,128.5 L479.6,124.6 L479.7,121.8 L479.8,132.0 L479.9,142.0 L480.0,121.6 L480.1,169.1 L480.2,131.0 L480.3,140.4 L480.4,133.8 L480.5,149.7 L480.6,141.4 L480.7,134.7 L480.8,139.9 L480.9,132.7 L481.0,156.7 L481.1,138.8 L481.2,137.6 L481.3,136.1 L481.4,131.9 L481.5,131.2 L481.6,101.4 L481.7,130.2 L481.8,142.4 L481.9,123.4 L482.0,118.0 L482.1,144.2 L482.2,138.1 L482.3,137.6 L482.4,151.6 L482.5,142.6 L482.6,159.4 L482.7,167.0 L482.8,134.9 L482.9,137.5 L483.0,124.5 L483.1,157.8 L483.2,150.2 L483.3,155.6 L483.4,150.1 L483.5,168.0 L483.6,184.3 L483.7,119.6 L483.8,149.3 L483.9,161.7 L484.0,152.0 L484.1,135.6 L484.2,156.0 L484.3,147.2 L484.4,147.9 L484.5,142.9 L484.6,141.4 L484.7,164.6 L484.8,153.7 L484.9,151.1 L485.0,188.7 L485.1,157.2 L485.2,181.5 L485.3,153.7 L485.4,157.7 L485.5,154.5 L485.6,155.0 L485.7,156.0 L485.8,166.2 L485.9,164.6 L486.0,165.2 L486.1,149.7 L486.2,160.2 L486.3,159.1 L486.4,154.6 L486.5,155.8 L486.6,164.8 L486.7,149.4 L486.8,157.2 L486.9,151.9 L487.0,174.0 L487.1,169.7 L487.2,107.1 L487.3,141.4 L487.4,156.0 L487.5,159.4 L487.6,111.1 L487.7,165.2 L487.8,148.5 L487.9,155.4 L488.0,177.6 L488.1,120.0 L488.2,157.5 L488.3,148.4 L488.4,158.9 L488.5,145.2 L488.6,139.5 L488.7,180.6 L488.8,162.2 L488.9,107.1 L489.0,151.1 L489.1,176.0 L489.2,129.0 L489.3,144.0 L489.4,143.5 L489.5,172.5 L489.6,142.0 L489.7,151.3 L489.8,141.7 L489.9,146.4 L490.0,152.0 L490.1,152.8 L490.2,143.5 L490.3,132.0 L490.4,155.1 L490.5,150.5 L490.6,106.4 L490.7,150.2 L490.8,130.9 L490.9,120.8 L491.0,190.0 L491.1,156.3 L491.2,154.8 L491.3,148.5 L491.4,141.0 L491.5,142.1 L491.6,140.9 L491.7,187.5 L491.8,157.2 L491.9,123.7 L492.0,157.1 L492.1,156.5 L492.2,146.1 L492.3,134.1 L492.4,130.1 L492.5,175.1 L492.6,158.1 L492.7,152.7 L492.8,144.8 L492.9,144.8 L493.0,151.7 L493.1,139.3 L493.2,118.6 L493.3,137.4 L493.4,119.4 L493.5,140.9 L493.6,144.8 L493.7,144.6 L493.8,102.8 L493.9,148.9 L494.0,151.3 L494.1,134.8 L494.2,142.1 L494.3,146.4 L494.4,130.4 L494.5,141.2 L494.6,172.3 L494.7,144.4 L494.8,130.0 L494.9,126.1 L495.0,102.0 L495.1,141.2 L495.2,150.9 L495.3,176.2 L495.4,140.4 L495.5,135.8 L495.6,146.9 L495.7,137.5 L495.8,113.4 L495.9,137.1 L496.0,131.2 L496.1,140.1 L496.2,141.4 L496.3,104.1 L496.4,143.7 L496.5,159.8 L496.6,144.5 L496.7,143.9 L496.8,118.4 L496.9,138.3 L497.0,131.1 L497.1,138.6 L497.2,153.2 L497.3,151.1 L497.4,133.9 L497.5,138.2 L497.6,145.6 L497.7,138.5 L497.8,153.9 L497.9,137.1 L498.0,142.4 L498.1,124.9 L498.2,137.7 L498.3,136.9 L498.4,142.9 L498.5,141.8 L498.6,139.6 L498.7,141.1 L498.8,148.4 L498.9,154.3 L499.0,139.5 L499.1,141.8 L499.2,178.5 L499.3,145.8 L499.4,144.5 L499.5,141.7 L499.6,143.6 L499.7,141.5 L499.8,134.3 L499.9,137.7 L500.0,149.3 L500.1,134.4 L500.2,145.4 L500.3,150.8 L500.4,113.4 L500.5,148.0 L500.6,142.7 L500.7,158.9 L500.8,142.8 L500.9,175.1 L501.0,167.8 L501.1,152.1 L501.2,145.1 L501.4,149.3 L501.5,130.5 L501.6,140.4 L501.7,140.6 L501.8,138.9 L501.9,116.9 L502.0,119.9 L502.1,150.7 L502.2,138.4 L502.3,147.6 L502.4,147.4 L502.5,147.8 L502.6,142.7 L502.7,184.6 L502.8,149.1 L502.9,144.8 L503.0,149.5 L503.1,163.6 L503.2,145.8 L503.3,147.0 L503.4,148.2 L503.5,163.2 L503.6,125.5 L503.7,153.1 L503.8,158.2 L503.9,154.3 L504.0,187.4 L504.1,166.8 L504.2,160.9 L504.3,152.6 L504.4,153.1 L504.5,162.3 L504.6,157.8 L504.7,151.5 L504.8,104.3 L504.9,128.3 L505.0,185.0 L505.1,153.8 L505.2,161.1 L505.3,154.3 L505.4,152.4 L505.5,158.9 L505.6,156.5 L505.7,157.5 L505.8,156.9 L505.9,153.6 L506.0,156.5 L506.1,157.5 L506.2,133.7 L506.3,152.7 L506.4,157.7 L506.5,158.4 L506.6,155.7 L506.7,128.2 L506.8,150.7 L506.9,101.5 L507.0,161.7 L507.1,158.8 L507.2,165.8 L507.3,173.1 L507.4,139.5 L507.5,145.5 L507.6,141.5 L507.7,126.7 L507.8,167.6 L507.9,160.4 L508.0,157.1 L508.1,178.9 L508.2,163.2 L508.3,153.8 L508.4,141.3 L508.5,153.9 L508.6,157.3 L508.7,170.5 L508.8,163.2 L508.9,147.5 L509.0,147.5 L509.1,150.0 L509.2,121.3 L509.3,97.4 L509.4,154.9 L509.5,141.8 L509.6,147.6 L509.7,137.1 L509.8,146.3 L509.9,169.2 L510.0,158.8 L510.1,153.3 L510.2,154.2 L510.3,153.3 L510.4,162.0 L510.5,157.8 L510.6,152.3 L510.7,139.9 L510.8,148.2 L510.9,141.9 L511.0,151.3 L511.1,155.6 L511.2,128.3 L511.3,121.6 L511.4,112.4 L511.5,152.5 L511.6,156.9 L511.7,98.3 L511.8,132.6 L511.9,144.1 L512.0,146.3 L512.1,164.5 L512.2,106.1 L512.3,141.6 L512.4,115.4 L512.5,90.3 L512.6,145.9 L512.7,156.0 L512.8,138.3 L512.9,136.0 L513.0,149.5 L513.1,149.0 L513.2,162.6 L513.3,122.8 L513.4,112.9 L513.5,134.7 L513.6,126.8 L513.7,140.1 L513.8,142.0 L513.9,131.6 L514.0,138.1 L514.1,129.2 L514.2,121.5 L514.3,132.7 L514.4,124.8 L514.5,118.6 L514.6,131.4 L514.7,126.4 L514.8,124.5 L514.9,123.5 L515.0,123.0 L515.1,121.9 L515.2,126.2 L515.3,118.4 L515.4,123.8 L515.5,106.0 L515.6,130.8 L515.7,135.1 L515.8,118.6 L515.9,124.5 L516.0,115.1 L516.1,121.4 L516.2,65.9 L516.3,127.0 L516.4,116.1 L516.5,111.8 L516.6,147.5 L516.7,98.6 L516.8,75.0 L516.9,129.2 L517.0,125.6 L517.1,105.6 L517.2,105.0 L517.3,105.4 L517.4,116.2 L517.5,118.1 L517.6,109.5 L517.7,107.5 L517.8,102.1 L517.9,103.9 L518.0,87.7 L518.1,100.0 L518.2,102.1 L518.3,92.8 L518.4,92.9 L518.5,98.1 L518.6,109.9 L518.7,97.5 L518.8,97.0 L518.9,76.7 L519.0,90.7 L519.1,76.8 L519.2,91.8 L519.3,76.2 L519.4,91.5 L519.5,93.6 L519.6,99.4 L519.7,85.5 L519.8,92.5 L519.9,93.8 L520.0,49.7 L520.1,81.1 L520.2,103.2 L520.3,142.9 L520.4,116.1 L520.5,89.8 L520.6,92.2 L520.7,90.7 L520.8,104.2 L520.9,142.0 L521.0,65.8 L521.1,106.4 L521.2,99.6 L521.3,70.6 L521.4,87.1 L521.5,77.9 L521.6,90.8 L521.7,85.6 L521.8,83.1 L521.9,114.2 L522.0,71.9 L522.1,97.3 L522.2,99.3 L522.3,71.1 L522.4,75.6 L522.5,86.2 L522.6,61.1 L522.7,117.0 L522.8,116.4 L522.9,56.2 L523.0,97.7 L523.1,88.0 L523.2,77.5 L523.3,79.8 L523.4,79.6 L523.5,72.6 L523.6,93.5 L523.7,95.0 L523.8,82.9 L523.9,75.6 L524.0,87.1 L524.2,132.1 L524.3,97.1 L524.4,104.9 L524.5,75.0 L524.6,87.8 L524.7,88.8 L524.8,93.3 L524.9,90.1 L525.0,130.1 L525.1,90.1 L525.2,89.0 L525.3,84.7 L525.4,92.3 L525.5,115.2 L525.6,87.1 L525.7,107.3 L525.8,87.6 L525.9,85.1 L526.0,83.1 L526.1,92.6 L526.2,79.5 L526.3,62.7 L526.4,105.2 L526.5,91.5 L526.6,92.7 L526.7,85.6 L526.8,90.1 L526.9,93.6 L527.0,68.2 L527.1,90.6 L527.2,89.0 L527.3,101.1 L527.4,100.5 L527.5,108.2 L527.6,134.7 L527.7,73.8 L527.8,84.5 L527.9,81.5 L528.0,69.8 L528.1,91.3 L528.2,90.5 L528.3,98.8 L528.4,86.7 L528.5,106.5 L528.6,119.8 L528.7,125.6 L528.8,107.9 L528.9,94.7 L529.0,96.0 L529.1,95.0 L529.2,85.3 L529.3,99.7 L529.4,105.2 L529.5,101.3 L529.6,73.6 L529.7,111.8 L529.8,104.0 L529.9,73.5 L530.0,97.6 L530.1,109.3 L530.2,104.5 L530.3,94.7 L530.4,84.0 L530.5,95.5 L530.6,105.4 L530.7,98.4 L530.8,64.2 L530.9,90.9 L531.0,112.2 L531.1,113.6 L531.2,110.5 L531.3,91.9 L531.4,100.4 L531.5,107.8 L531.6,94.2 L531.7,110.9 L531.8,110.6 L531.9,107.6 L532.0,99.1 L532.1,153.3 L532.2,79.2 L532.3,94.6 L532.4,114.8 L532.5,108.7 L532.6,106.5 L532.7,117.4 L532.8,110.2 L532.9,104.0 L533.0,111.7 L533.1,115.7 L533.2,112.6 L533.3,107.5 L533.4,117.3 L533.5,114.9 L533.6,130.4 L533.7,134.0 L533.8,108.9 L533.9,113.0 L534.0,176.8 L534.1,94.0 L534.2,159.3 L534.3,106.2 L534.4,102.7 L534.5,74.6 L534.6,114.7 L534.7,111.4 L534.8,140.8 L534.9,112.8 L535.0,101.3 L535.1,96.8 L535.2,110.0 L535.3,111.6 L535.4,99.9 L535.5,127.0" fill="none" stroke="#00ffff" stroke-width="0.6" stroke-linejoin="miter" stroke-miterlimit="10"/>
<path d="M33.30,108.50 L33.70,106.29 L34.10,104.08 L34.51,101.89 L34.91,99.73 L35.31,97.63 L35.71,95.61 L36.11,93.67 L36.51,91.85 L36.92,90.16 L37.32,88.60 L37.72,87.20 L38.12,85.97 L38.52,84.91 L38.92,84.04 L39.33,83.36 L39.73,82.87 L40.13,82.59 L40.53,82.50 L40.93,82.64 L41.34,83.00 L41.74,83.58 L42.14,84.36 L42.54,85.34 L42.94,86.50 L43.34,87.82 L43.75,89.30 L44.15,90.90 L44.55,92.62 L44.95,94.43 L45.35,96.32 L45.75,98.27 L46.16,100.25 L46.56,102.25 L46.96,104.24 L47.36,106.22 L47.76,108.16 L48.17,110.04 L48.57,111.85 L48.97,113.57 L49.37,115.19 L49.77,116.69 L50.17,118.06 L50.58,119.30 L50.98,120.39 L51.38,121.33 L51.78,122.11 L52.18,122.73 L52.58,123.18 L52.99,123.47 L53.39,123.59 L53.79,123.58 L54.19,123.47 L54.59,123.29 L55.00,123.04 L55.40,122.73 L55.80,122.36 L56.20,121.96 L56.60,121.53 L57.00,121.09 L57.41,120.64 L57.81,120.21 L58.21,119.80 L58.61,119.42 L59.01,119.09 L59.41,118.83 L59.82,118.63 L60.22,118.52 L60.62,118.51 L61.02,118.63 L61.42,118.91 L61.82,119.36 L62.23,119.97 L62.63,120.75 L63.03,121.71 L63.43,122.83 L63.83,124.12 L64.24,125.56 L64.64,127.17 L65.04,128.92 L65.44,130.81 L65.84,132.82 L66.24,134.95 L66.65,137.18 L67.05,139.49 L67.45,141.87 L67.85,144.30 L68.25,146.77 L68.65,149.25 L69.06,151.72 L69.46,154.17 L69.86,156.57 L70.26,158.91 L70.66,161.16 L71.07,163.31 L71.47,165.33 L71.87,167.22 L72.27,168.95 L72.67,170.50 L73.07,171.87 L73.48,173.03 L73.88,173.99 L74.28,174.71 L74.68,175.21 L75.08,175.46 L75.48,175.48 L75.89,175.29 L76.29,174.90 L76.69,174.32 L77.09,173.55 L77.49,172.59 L77.90,171.46 L78.30,170.15 L78.70,168.69 L79.10,167.09 L79.50,165.35 L79.90,163.50 L80.31,161.55 L80.71,159.50 L81.11,157.39 L81.51,155.23 L81.91,153.04 L82.31,150.82 L82.72,148.61 L83.12,146.42 L83.52,144.26 L83.92,142.15 L84.32,140.11 L84.73,138.15 L85.13,136.28 L85.53,134.52 L85.93,132.88 L86.33,131.36 L86.73,129.98 L87.14,128.73 L87.54,127.64 L87.94,126.68 L88.34,125.88 L88.74,125.23 L89.14,124.72 L89.55,124.35 L89.95,124.11 L90.35,124.01 L90.75,124.04 L91.15,124.24 L91.56,124.62 L91.96,125.14 L92.36,125.79 L92.76,126.54 L93.16,127.38 L93.56,128.29 L93.97,129.24 L94.37,130.21 L94.77,131.18 L95.17,132.13 L95.57,133.04 L95.97,133.88 L96.38,134.64 L96.78,135.30 L97.18,135.84 L97.58,136.25 L97.98,136.51 L98.39,136.60 L98.79,136.53 L99.19,136.32 L99.59,135.96 L99.99,135.45 L100.39,134.80 L100.80,134.01 L101.20,133.08 L101.60,132.03 L102.00,130.85 L102.40,129.57 L102.80,128.19 L103.21,126.72 L103.61,125.18 L104.01,123.58 L104.41,121.94 L104.81,120.27 L105.22,118.60 L105.62,116.93 L106.02,115.29 L106.42,113.69 L106.82,112.16 L107.22,110.69 L107.63,109.32 L108.03,108.06 L108.43,106.92 L108.83,105.92 L109.23,105.06 L109.63,104.36 L110.04,103.84 L110.44,103.48 L110.84,103.32 L111.24,103.34 L111.64,103.59 L112.04,104.06 L112.45,104.74 L112.85,105.63 L113.25,106.71 L113.65,107.97 L114.05,109.41 L114.46,111.00 L114.86,112.73 L115.26,114.58 L115.66,116.53 L116.06,118.56 L116.46,120.65 L116.87,122.79 L117.27,124.94 L117.67,127.08 L118.07,129.20 L118.47,131.27 L118.87,133.27 L119.28,135.17 L119.68,136.96 L120.08,138.61 L120.48,140.10 L120.88,141.42 L121.29,142.54 L121.69,143.45 L122.09,144.14 L122.49,144.59 L122.89,144.79 L123.29,144.76 L123.70,144.57 L124.10,144.23 L124.50,143.73 L124.90,143.08 L125.30,142.27 L125.70,141.32 L126.11,140.22 L126.51,138.99 L126.91,137.63 L127.31,136.16 L127.71,134.58 L128.12,132.92 L128.52,131.17 L128.92,129.37 L129.32,127.51 L129.72,125.63 L130.12,123.73 L130.53,121.83 L130.93,119.95 L131.33,118.10 L131.73,116.29 L132.13,114.55 L132.53,112.89 L132.94,111.31 L133.34,109.84 L133.74,108.48 L134.14,107.24 L134.54,106.13 L134.95,105.15 L135.35,104.32 L135.75,103.63 L136.15,103.08 L136.55,102.68 L136.95,102.43 L137.36,102.31 L137.76,102.33 L138.16,102.50 L138.56,102.81 L138.96,103.26 L139.36,103.82 L139.77,104.49 L140.17,105.26 L140.57,106.12 L140.97,107.04 L141.37,108.01 L141.78,109.02 L142.18,110.05 L142.58,111.08 L142.98,112.11 L143.38,113.11 L143.78,114.07 L144.19,114.97 L144.59,115.80 L144.99,116.55 L145.39,117.21 L145.79,117.77 L146.19,118.21 L146.60,118.54 L147.00,118.73 L147.40,118.80 L147.80,118.74 L148.20,118.55 L148.61,118.24 L149.01,117.81 L149.41,117.26 L149.81,116.60 L150.21,115.84 L150.61,114.97 L151.02,114.02 L151.42,113.00 L151.82,111.91 L152.22,110.77 L152.62,109.59 L153.02,108.39 L153.43,107.18 L153.83,105.98 L154.23,104.81 L154.63,103.67 L155.03,102.59 L155.44,101.58 L155.84,100.65 L156.24,99.82 L156.64,99.10 L157.04,98.50 L157.44,98.03 L157.85,97.71 L158.25,97.53 L158.65,97.52 L159.05,97.72 L159.45,98.16 L159.85,98.83 L160.26,99.72 L160.66,100.85 L161.06,102.19 L161.46,103.74 L161.86,105.50 L162.26,107.44 L162.67,109.56 L163.07,111.84 L163.47,114.27 L163.87,116.82 L164.27,119.48 L164.68,122.24 L165.08,125.07 L165.48,127.95 L165.88,130.86 L166.28,133.77 L166.68,136.68 L167.09,139.55 L167.49,142.37 L167.89,145.12 L168.29,147.77 L168.69,150.31 L169.09,152.72 L169.50,154.99 L169.90,157.09 L170.30,159.01 L170.70,160.75 L171.10,162.29 L171.51,163.63 L171.91,164.74 L172.31,165.64 L172.71,166.31 L173.11,166.76 L173.51,166.98 L173.92,166.98 L174.32,166.81 L174.72,166.50 L175.12,166.04 L175.52,165.44 L175.92,164.72 L176.33,163.90 L176.73,162.97 L177.13,161.95 L177.53,160.87 L177.93,159.73 L178.34,158.55 L178.74,157.34 L179.14,156.13 L179.54,154.91 L179.94,153.72 L180.34,152.56 L180.75,151.44 L181.15,150.38 L181.55,149.40 L181.95,148.49 L182.35,147.67 L182.75,146.94 L183.16,146.32 L183.56,145.80 L183.96,145.39 L184.36,145.08 L184.76,144.89 L185.17,144.81 L185.57,144.83 L185.97,144.96 L186.37,145.20 L186.77,145.54 L187.17,145.98 L187.58,146.49 L187.98,147.08 L188.38,147.72 L188.78,148.41 L189.18,149.12 L189.58,149.85 L189.99,150.59 L190.39,151.30 L190.79,151.99 L191.19,152.64 L191.59,153.22 L192.00,153.73 L192.40,154.16 L192.80,154.48 L193.20,154.70 L193.60,154.80 L194.00,154.75 L194.41,154.53 L194.81,154.14 L195.21,153.56 L195.61,152.80 L196.01,151.86 L196.41,150.74 L196.82,149.45 L197.22,147.99 L197.62,146.36 L198.02,144.58 L198.42,142.65 L198.83,140.59 L199.23,138.42 L199.63,136.14 L200.03,133.77 L200.43,131.33 L200.83,128.84 L201.24,126.31 L201.64,123.76 L202.04,121.22 L202.44,118.70 L202.84,116.22 L203.24,113.80 L203.65,111.46 L204.05,109.21 L204.45,107.08 L204.85,105.08 L205.25,103.22 L205.66,101.53 L206.06,100.01 L206.46,98.68 L206.86,97.54 L207.26,96.60 L207.66,95.88 L208.07,95.37 L208.47,95.08 L208.87,95.00 L209.27,95.14 L209.67,95.47 L210.07,95.99 L210.48,96.70 L210.88,97.58 L211.28,98.62 L211.68,99.81 L212.08,101.13 L212.48,102.58 L212.89,104.13 L213.29,105.77 L213.69,107.48 L214.09,109.24 L214.49,111.04 L214.90,112.86 L215.30,114.67 L215.70,116.46 L216.10,118.22 L216.50,119.93 L216.90,121.57 L217.31,123.12 L217.71,124.57 L218.11,125.92 L218.51,127.14 L218.91,128.23 L219.31,129.18 L219.72,129.99 L220.12,130.64 L220.52,131.14 L220.92,131.48 L221.32,131.66 L221.73,131.69 L222.13,131.55 L222.53,131.25 L222.93,130.80 L223.33,130.21 L223.73,129.48 L224.14,128.63 L224.54,127.68 L224.94,126.64 L225.34,125.53 L225.74,124.35 L226.14,123.14 L226.55,121.90 L226.95,120.66 L227.35,119.42 L227.75,118.21 L228.15,117.05 L228.56,115.94 L228.96,114.91 L229.36,113.96 L229.76,113.12 L230.16,112.38 L230.56,111.77 L230.97,111.29 L231.37,110.95 L231.77,110.75 L232.17,110.70 L232.57,110.81 L232.97,111.08 L233.38,111.50 L233.78,112.08 L234.18,112.79 L234.58,113.64 L234.98,114.61 L235.39,115.69 L235.79,116.87 L236.19,118.14 L236.59,119.47 L236.99,120.86 L237.39,122.28 L237.80,123.72 L238.20,125.16 L238.60,126.59 L239.00,127.98 L239.40,129.33 L239.80,130.60 L240.21,131.79 L240.61,132.88 L241.01,133.85 L241.41,134.70 L241.81,135.40 L242.22,135.95 L242.62,136.34 L243.02,136.56 L243.42,136.59 L243.82,136.45 L244.22,136.12 L244.63,135.60 L245.03,134.91 L245.43,134.04 L245.83,133.01 L246.23,131.81 L246.63,130.46 L247.04,128.97 L247.44,127.36 L247.84,125.63 L248.24,123.80 L248.64,121.88 L249.05,119.90 L249.45,117.87 L249.85,115.81 L250.25,113.74 L250.65,111.68 L251.05,109.64 L251.46,107.64 L251.86,105.71 L252.26,103.85 L252.66,102.10 L253.06,100.45 L253.46,98.94 L253.87,97.56 L254.27,96.34 L254.67,95.29 L255.07,94.41 L255.47,93.72 L255.88,93.22 L256.28,92.91 L256.68,92.80 L257.08,92.91 L257.48,93.26 L257.88,93.84 L258.29,94.64 L258.69,95.66 L259.09,96.88 L259.49,98.29 L259.89,99.87 L260.29,101.62 L260.70,103.51 L261.10,105.52 L261.50,107.64 L261.90,109.84 L262.30,112.11 L262.70,114.43 L263.11,116.78 L263.51,119.13 L263.91,121.47 L264.31,123.78 L264.71,126.03 L265.12,128.22 L265.52,130.31 L265.92,132.31 L266.32,134.19 L266.72,135.94 L267.12,137.54 L267.53,138.99 L267.93,140.28 L268.33,141.39 L268.73,142.33 L269.13,143.09 L269.53,143.66 L269.94,144.05 L270.34,144.26 L270.74,144.29 L271.14,144.21 L271.54,144.03 L271.95,143.77 L272.35,143.43 L272.75,143.03 L273.15,142.57 L273.55,142.07 L273.95,141.54 L274.36,141.00 L274.76,140.44 L275.16,139.90 L275.56,139.38 L275.96,138.89 L276.36,138.44 L276.77,138.06 L277.17,137.74 L277.57,137.51 L277.97,137.36 L278.37,137.30 L278.78,137.36 L279.18,137.54 L279.58,137.86 L279.98,138.32 L280.38,138.92 L280.78,139.65 L281.19,140.52 L281.59,141.52 L281.99,142.65 L282.39,143.90 L282.79,145.26 L283.19,146.71 L283.60,148.26 L284.00,149.88 L284.40,151.57 L284.80,153.30 L285.20,155.07 L285.61,156.85 L286.01,158.62 L286.41,160.39 L286.81,162.11 L287.21,163.78 L287.61,165.38 L288.02,166.90 L288.42,168.31 L288.82,169.61 L289.22,170.77 L289.62,171.78 L290.02,172.64 L290.43,173.33 L290.83,173.84 L291.23,174.17 L291.63,174.30 L292.03,174.21 L292.44,173.88 L292.84,173.30 L293.24,172.48 L293.64,171.42 L294.04,170.14 L294.44,168.63 L294.85,166.92 L295.25,165.01 L295.65,162.93 L296.05,160.68 L296.45,158.28 L296.85,155.75 L297.26,153.12 L297.66,150.39 L298.06,147.59 L298.46,144.75 L298.86,141.88 L299.27,139.00 L299.67,136.14 L300.07,133.31 L300.47,130.54 L300.87,127.84 L301.27,125.24 L301.68,122.75 L302.08,120.39 L302.48,118.17 L302.88,116.11 L303.28,114.22 L303.68,112.52 L304.09,111.00 L304.49,109.69 L304.89,108.58 L305.29,107.68 L305.69,107.00 L306.10,106.52 L306.50,106.26 L306.90,106.20 L307.30,106.32 L307.70,106.57 L308.10,106.95 L308.51,107.46 L308.91,108.06 L309.31,108.76 L309.71,109.54 L310.11,110.37 L310.51,111.25 L310.92,112.16 L311.32,113.08 L311.72,113.99 L312.12,114.88 L312.52,115.74 L312.92,116.54 L313.33,117.28 L313.73,117.93 L314.13,118.49 L314.53,118.95 L314.93,119.29 L315.34,119.51 L315.74,119.60 L316.14,119.55 L316.54,119.38 L316.94,119.08 L317.34,118.66 L317.75,118.10 L318.15,117.43 L318.55,116.64 L318.95,115.75 L319.35,114.75 L319.75,113.67 L320.16,112.51 L320.56,111.28 L320.96,110.01 L321.36,108.69 L321.76,107.36 L322.17,106.01 L322.57,104.68 L322.97,103.37 L323.37,102.10 L323.77,100.89 L324.17,99.75 L324.58,98.70 L324.98,97.76 L325.38,96.93 L325.78,96.22 L326.18,95.66 L326.58,95.25 L326.99,94.99 L327.39,94.90 L327.79,94.99 L328.19,95.28 L328.59,95.77 L329.00,96.45 L329.40,97.32 L329.80,98.38 L330.20,99.61 L330.60,101.01 L331.00,102.57 L331.41,104.27 L331.81,106.11 L332.21,108.06 L332.61,110.11 L333.01,112.24 L333.41,114.44 L333.82,116.69 L334.22,118.97 L334.62,121.25 L335.02,123.52 L335.42,125.76 L335.83,127.95 L336.23,130.07 L336.63,132.10 L337.03,134.03 L337.43,135.83 L337.83,137.49 L338.24,139.00 L338.64,140.34 L339.04,141.50 L339.44,142.47 L339.84,143.24 L340.24,143.81 L340.65,144.16 L341.05,144.30 L341.45,144.22 L341.85,143.95 L342.25,143.48 L342.66,142.82 L343.06,141.99 L343.46,140.99 L343.86,139.83 L344.26,138.52 L344.66,137.09 L345.07,135.54 L345.47,133.90 L345.87,132.17 L346.27,130.38 L346.67,128.55 L347.07,126.69 L347.48,124.83 L347.88,122.98 L348.28,121.15 L348.68,119.38 L349.08,117.67 L349.49,116.04 L349.89,114.50 L350.29,113.08 L350.69,111.79 L351.09,110.63 L351.49,109.62 L351.90,108.76 L352.30,108.07 L352.70,107.55 L353.10,107.20 L353.50,107.02 L353.90,107.02 L354.31,107.19 L354.71,107.52 L355.11,108.01 L355.51,108.64 L355.91,109.41 L356.32,110.31 L356.72,111.32 L357.12,112.43 L357.52,113.63 L357.92,114.91 L358.32,116.23 L358.73,117.60 L359.13,118.99 L359.53,120.39 L359.93,121.78 L360.33,123.14 L360.73,124.47 L361.14,125.74 L361.54,126.93 L361.94,128.05 L362.34,129.07 L362.74,129.98 L363.14,130.78 L363.55,131.45 L363.95,132.00 L364.35,132.40 L364.75,132.67 L365.15,132.79 L365.56,132.77 L365.96,132.58 L366.36,132.24 L366.76,131.75 L367.16,131.12 L367.56,130.37 L367.97,129.51 L368.37,128.55 L368.77,127.52 L369.17,126.42 L369.57,125.27 L369.97,124.10 L370.38,122.92 L370.78,121.75 L371.18,120.62 L371.58,119.53 L371.98,118.51 L372.39,117.58 L372.79,116.75 L373.19,116.05 L373.59,115.49 L373.99,115.09 L374.39,114.86 L374.80,114.81 L375.20,114.94 L375.60,115.25 L376.00,115.75 L376.40,116.44 L376.80,117.31 L377.21,118.37 L377.61,119.61 L378.01,121.03 L378.41,122.62 L378.81,124.36 L379.22,126.25 L379.62,128.29 L380.02,130.44 L380.42,132.70 L380.82,135.06 L381.22,137.49 L381.63,139.99 L382.03,142.52 L382.43,145.07 L382.83,147.62 L383.23,150.15 L383.63,152.64 L384.04,155.08 L384.44,157.43 L384.84,159.69 L385.24,161.84 L385.64,163.85 L386.05,165.71 L386.45,167.41 L386.85,168.94 L387.25,170.27 L387.65,171.40 L388.05,172.32 L388.46,173.03 L388.86,173.51 L389.26,173.76 L389.66,173.78 L390.06,173.60 L390.46,173.23 L390.87,172.66 L391.27,171.90 L391.67,170.98 L392.07,169.88 L392.47,168.63 L392.88,167.25 L393.28,165.73 L393.68,164.10 L394.08,162.38 L394.48,160.57 L394.88,158.71 L395.29,156.79 L395.69,154.85 L396.09,152.90 L396.49,150.95 L396.89,149.03 L397.29,147.15 L397.70,145.31 L398.10,143.55 L398.50,141.87 L398.90,140.28 L399.30,138.80 L399.71,137.43 L400.11,136.19 L400.51,135.07 L400.91,134.09 L401.31,133.24 L401.71,132.53 L402.12,131.96 L402.52,131.53 L402.92,131.23 L403.32,131.05 L403.72,131.00 L404.12,131.04 L404.53,131.16 L404.93,131.33 L405.33,131.56 L405.73,131.84 L406.13,132.16 L406.54,132.50 L406.94,132.85 L407.34,133.21 L407.74,133.56 L408.14,133.89 L408.54,134.19 L408.95,134.44 L409.35,134.65 L409.75,134.80 L410.15,134.89 L410.55,134.89 L410.95,134.76 L411.36,134.47 L411.76,134.02 L412.16,133.40 L412.56,132.62 L412.96,131.68 L413.36,130.57 L413.77,129.30 L414.17,127.88 L414.57,126.31 L414.97,124.60 L415.37,122.76 L415.78,120.80 L416.18,118.74 L416.58,116.59 L416.98,114.37 L417.38,112.09 L417.78,109.76 L418.19,107.41 L418.59,105.06 L418.99,102.72 L419.39,100.41 L419.79,98.15 L420.19,95.96 L420.60,93.85 L421.00,91.86 L421.40,89.98 L421.80,88.24 L422.20,86.66 L422.61,85.24 L423.01,84.00 L423.41,82.95 L423.81,82.11 L424.21,81.46 L424.61,81.03 L425.02,80.82 L425.42,80.84 L425.82,81.09 L426.22,81.58 L426.62,82.30 L427.02,83.24 L427.43,84.39 L427.83,85.74 L428.23,87.27 L428.63,88.97 L429.03,90.82 L429.44,92.80 L429.84,94.90 L430.24,97.10 L430.64,99.37 L431.04,101.70 L431.44,104.07 L431.85,106.44 L432.25,108.82 L432.65,111.16 L433.05,113.46 L433.45,115.69 L433.85,117.84 L434.26,119.89 L434.66,121.82 L435.06,123.61 L435.46,125.26 L435.86,126.75 L436.27,128.06 L436.67,129.20 L437.07,130.15 L437.47,130.91 L437.87,131.47 L438.27,131.83 L438.68,131.99 L439.08,131.97 L439.48,131.82 L439.88,131.55 L440.28,131.16 L440.68,130.67 L441.09,130.08 L441.49,129.41 L441.89,128.66 L442.29,127.86 L442.69,127.00 L443.10,126.11 L443.50,125.19 L443.90,124.27 L444.30,123.35 L444.70,122.46 L445.10,121.59 L445.51,120.77 L445.91,120.01 L446.31,119.32 L446.71,118.70 L447.11,118.17 L447.51,117.73 L447.92,117.39 L448.32,117.16 L448.72,117.03 L449.12,117.01 L449.52,117.15 L449.93,117.46 L450.33,117.94 L450.73,118.58 L451.13,119.37 L451.53,120.30 L451.93,121.37 L452.34,122.55 L452.74,123.83 L453.14,125.21 L453.54,126.66 L453.94,128.16 L454.34,129.70 L454.75,131.27 L455.15,132.83 L455.55,134.38 L455.95,135.89 L456.35,137.35 L456.76,138.74 L457.16,140.04 L457.56,141.23 L457.96,142.30 L458.36,143.24 L458.76,144.02 L459.17,144.63 L459.57,145.08 L459.97,145.33 L460.37,145.40 L460.77,145.28 L461.17,144.99 L461.58,144.52 L461.98,143.89 L462.38,143.09 L462.78,142.13 L463.18,141.01 L463.58,139.76 L463.99,138.37 L464.39,136.86 L464.79,135.25 L465.19,133.54 L465.59,131.76 L466.00,129.92 L466.40,128.04 L466.80,126.14 L467.20,124.23 L467.60,122.33 L468.00,120.46 L468.41,118.65 L468.81,116.90 L469.21,115.23 L469.61,113.67 L470.01,112.23 L470.41,110.92 L470.82,109.75 L471.22,108.74 L471.62,107.90 L472.02,107.24 L472.42,106.77 L472.83,106.49 L473.23,106.40 L473.63,106.53 L474.03,106.88 L474.43,107.45 L474.83,108.24 L475.24,109.23 L475.64,110.41 L476.04,111.78 L476.44,113.32 L476.84,115.01 L477.24,116.84 L477.65,118.80 L478.05,120.86 L478.45,123.01 L478.85,125.23 L479.25,127.49 L479.66,129.78 L480.06,132.09 L480.46,134.37 L480.86,136.63 L481.26,138.84 L481.66,140.97 L482.07,143.02 L482.47,144.97 L482.87,146.79 L483.27,148.48 L483.67,150.02 L484.07,151.40 L484.48,152.61 L484.88,153.64 L485.28,154.48 L485.68,155.13 L486.08,155.58 L486.49,155.84 L486.89,155.90 L487.29,155.80 L487.69,155.56 L488.09,155.20 L488.49,154.72 L488.90,154.13 L489.30,153.44 L489.70,152.66 L490.10,151.80 L490.50,150.88 L490.90,149.91 L491.31,148.90 L491.71,147.87 L492.11,146.84 L492.51,145.81 L492.91,144.80 L493.32,143.83 L493.72,142.90 L494.12,142.04 L494.52,141.24 L494.92,140.53 L495.32,139.91 L495.73,139.39 L496.13,138.98 L496.53,138.67 L496.93,138.48 L497.33,138.40 L497.73,138.45 L498.14,138.66 L498.54,139.01 L498.94,139.51 L499.34,140.14 L499.74,140.89 L500.15,141.75 L500.55,142.71 L500.95,143.76 L501.35,144.87 L501.75,146.04 L502.15,147.25 L502.56,148.47 L502.96,149.69 L503.36,150.90 L503.76,152.07 L504.16,153.18 L504.56,154.22 L504.97,155.17 L505.37,156.00 L505.77,156.71 L506.17,157.28 L506.57,157.70 L506.98,157.94 L507.38,158.00 L507.78,157.85 L508.18,157.48 L508.58,156.90 L508.98,156.09 L509.39,155.07 L509.79,153.83 L510.19,152.38 L510.59,150.73 L510.99,148.89 L511.39,146.86 L511.80,144.66 L512.20,142.30 L512.60,139.80 L513.00,137.17 L513.40,134.43 L513.80,131.60 L514.21,128.70 L514.61,125.75 L515.01,122.77 L515.41,119.77 L515.81,116.79 L516.22,113.85 L516.62,110.95 L517.02,108.14 L517.42,105.42 L517.82,102.81 L518.22,100.35 L518.63,98.03 L519.03,95.89 L519.43,93.93 L519.83,92.17 L520.23,90.62 L520.63,89.30 L521.04,88.21 L521.44,87.36 L521.84,86.75 L522.24,86.40 L522.64,86.30 L523.05,86.39 L523.45,86.63 L523.85,87.01 L524.25,87.53 L524.65,88.18 L525.05,88.96 L525.46,89.84 L525.86,90.82 L526.26,91.90 L526.66,93.05 L527.06,94.26 L527.46,95.52 L527.87,96.81 L528.27,98.12 L528.67,99.44 L529.07,100.75 L529.47,102.04 L529.88,103.29 L530.28,104.49 L530.68,105.63 L531.08,106.70 L531.48,107.70 L531.88,108.60 L532.29,109.41 L532.69,110.12 L533.09,110.72 L533.49,111.22 L533.89,111.62 L534.29,111.91 L534.70,112.10 L535.10,112.19 L535.50,112.19" fill="none" stroke="#000" stroke-width="2" stroke-linejoin="round"/>
<text class="tk" style="font-size:11.7px" transform="translate(32.4 28.1) scale(1.12 1)" text-anchor="end">6</text>
<text class="tk" style="font-size:11.7px" transform="translate(32.3 62.7) scale(1.12 1)" text-anchor="end">4</text>
<text class="tk" style="font-size:11.7px" transform="translate(32.2 97.3) scale(1.12 1)" text-anchor="end">2</text>
<text class="tk" style="font-size:11.7px" transform="translate(32.3 132.0) scale(1.12 1)" text-anchor="end">0</text>
<text class="tk" style="font-size:11.7px" transform="translate(29.3 166.1) scale(1.12 1)" text-anchor="end">-2</text>
<text class="tk" style="font-size:11.7px" transform="translate(29.3 200.9) scale(1.12 1)" text-anchor="end">-4</text>
<text class="tk" style="font-size:11.7px" transform="translate(29.2 231.8) scale(1.12 1)" text-anchor="end">-6</text>
<text class="tk" style="font-size:11.7px" transform="translate(35 245.0) scale(1.12 1)" text-anchor="middle">0</text>
<text class="tk" style="font-size:11.7px" transform="translate(86.3 245.0) scale(1.12 1)" text-anchor="middle">500</text>
<text class="tk" style="font-size:11.7px" transform="translate(180.6 245.0) scale(1.12 1)" text-anchor="middle">1500</text>
<text class="tk" style="font-size:11.7px" transform="translate(284.4 245.0) scale(1.12 1)" text-anchor="middle">2500</text>
<text class="tk" style="font-size:11.7px" transform="translate(384.9 245.0) scale(1.12 1)" text-anchor="middle">3500</text>
<text class="tk" style="font-size:11.7px" transform="translate(490.4 245.0) scale(1.12 1)" text-anchor="middle">4500</text>
<text class="al" style="font-size:11.6px" x="280.8" y="260.8" text-anchor="middle" textLength="35.4" lengthAdjust="spacingAndGlyphs">Time/s</text>
<text class="al" transform="translate(11.5 118.85) rotate(-90)" x="0" y="0" text-anchor="middle" textLength="68.6" lengthAdjust="spacingAndGlyphs">Amplitude/mm</text>
<path d="M212.9 18.4 H257.6" stroke="#00ffff" stroke-width="1.5"/>
<path d="M382 18.2 H426.9" stroke="#000" stroke-width="2"/>
<text class="lg" x="309.0" y="15" text-anchor="middle" textLength="82" lengthAdjust="spacingAndGlyphs">Synthetic signal</text>
<text class="lg" x="309.25" y="28.9" text-anchor="middle" textLength="52.3" lengthAdjust="spacingAndGlyphs">with noise</text>
<text class="lg" x="475.8" y="12.6" text-anchor="middle" textLength="41.3" lengthAdjust="spacingAndGlyphs">Original</text>
<text class="lg" x="476.3" y="25.9" text-anchor="middle" textLength="94.2" lengthAdjust="spacingAndGlyphs">synthesized signal</text>
</svg></body></html>
